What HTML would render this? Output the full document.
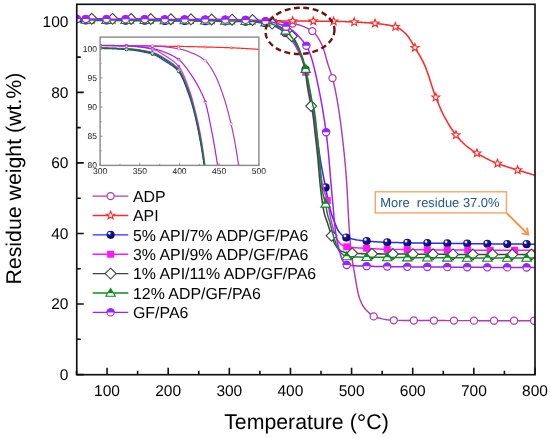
<!DOCTYPE html>
<html><head><meta charset="utf-8"><title>TGA curves</title>
<style>
html,body{margin:0;padding:0;background:#fff;}
body{width:550px;height:438px;overflow:hidden;}
svg{display:block;}
text{font-family:"Liberation Sans",Arial,sans-serif;fill:#000;text-rendering:geometricPrecision;}
.tl{font-size:15.5px;}
.at{font-size:21.3px;}
.lg{font-size:15.9px;}
.it{font-size:8.5px;fill:#1a1a1a;}
.an{font-size:12.95px;fill:#21558f;}
</style></head><body>
<svg width="550" height="438" viewBox="0 0 550 438"><defs><radialGradient id="navyg" cx="0.36" cy="0.32" r="0.72" fx="0.34" fy="0.3"><stop offset="0" stop-color="#ffffff"/><stop offset="0.14" stop-color="#e8e8ff"/><stop offset="0.3" stop-color="#1c1c90"/><stop offset="1" stop-color="#00006a"/></radialGradient><clipPath id="mainclip"><rect x="76.75" y="-3.70" width="458.25" height="378.40"/></clipPath><clipPath id="insclip"><rect x="100.10" y="37.10" width="158.80" height="128.30"/></clipPath></defs><path d="M76.50,374.70 v-4.00 M107.06,374.70 v-7.00 M137.63,374.70 v-4.00 M168.19,374.70 v-7.00 M198.76,374.70 v-4.00 M229.32,374.70 v-7.00 M259.89,374.70 v-4.00 M290.45,374.70 v-7.00 M321.02,374.70 v-4.00 M351.58,374.70 v-7.00 M382.15,374.70 v-4.00 M412.71,374.70 v-7.00 M443.28,374.70 v-4.00 M473.84,374.70 v-7.00 M504.41,374.70 v-4.00 M534.97,374.70 v-7.00 M76.75,374.60 h7.00 M76.75,339.32 h4.00 M76.75,304.04 h7.00 M76.75,268.76 h4.00 M76.75,233.48 h7.00 M76.75,198.20 h4.00 M76.75,162.92 h7.00 M76.75,127.64 h4.00 M76.75,92.36 h7.00 M76.75,57.08 h4.00 M76.75,21.80 h7.00" stroke="#111" stroke-width="1.6" fill="none"/><g clip-path="url(#mainclip)"><path d="M76.80,19.50 L77.95,19.50 L79.10,19.50 L80.25,19.50 L81.39,19.50 L82.54,19.50 L83.69,19.50 L84.84,19.50 L85.99,19.50 L87.14,19.50 L88.28,19.51 L89.43,19.51 L90.58,19.51 L91.73,19.51 L92.88,19.51 L94.03,19.51 L95.17,19.51 L96.32,19.51 L97.47,19.51 L98.62,19.52 L99.77,19.52 L100.92,19.52 L102.06,19.52 L103.21,19.52 L104.36,19.52 L105.51,19.52 L106.66,19.52 L107.81,19.53 L108.95,19.53 L110.10,19.53 L111.25,19.53 L112.40,19.53 L113.55,19.53 L114.70,19.54 L115.84,19.54 L116.99,19.54 L118.14,19.54 L119.29,19.54 L120.44,19.55 L121.59,19.55 L122.73,19.55 L123.88,19.55 L125.03,19.55 L126.18,19.55 L127.33,19.56 L128.48,19.56 L129.63,19.56 L130.77,19.56 L131.92,19.57 L133.07,19.57 L134.22,19.57 L135.37,19.57 L136.52,19.57 L137.66,19.58 L138.81,19.58 L139.96,19.58 L141.11,19.58 L142.26,19.58 L143.41,19.59 L144.55,19.59 L145.70,19.59 L146.85,19.59 L148.00,19.60 L149.15,19.60 L150.30,19.60 L151.44,19.60 L152.59,19.61 L153.74,19.61 L154.89,19.61 L156.04,19.61 L157.19,19.61 L158.33,19.62 L159.48,19.62 L160.63,19.62 L161.78,19.62 L162.93,19.62 L164.08,19.63 L165.22,19.63 L166.37,19.63 L167.52,19.63 L168.67,19.64 L169.82,19.64 L170.97,19.64 L172.11,19.64 L173.26,19.64 L174.41,19.65 L175.56,19.65 L176.71,19.65 L177.86,19.65 L179.01,19.66 L180.15,19.66 L181.30,19.66 L182.45,19.66 L183.60,19.67 L184.75,19.67 L185.90,19.67 L187.04,19.67 L188.19,19.68 L189.34,19.68 L190.49,19.68 L191.64,19.69 L192.79,19.69 L193.93,19.69 L195.08,19.69 L196.23,19.70 L197.38,19.70 L198.53,19.71 L199.68,19.71 L200.82,19.71 L201.97,19.72 L203.12,19.72 L204.27,19.72 L205.42,19.73 L206.57,19.73 L207.71,19.74 L208.86,19.74 L210.01,19.75 L211.16,19.75 L212.31,19.76 L213.46,19.76 L214.60,19.77 L215.75,19.77 L216.90,19.78 L218.05,19.78 L219.20,19.79 L220.35,19.79 L221.49,19.80 L222.64,19.80 L223.79,19.81 L224.94,19.82 L226.09,19.82 L227.24,19.83 L228.38,19.84 L229.53,19.84 L230.68,19.85 L231.83,19.86 L232.98,19.87 L234.13,19.87 L235.28,19.88 L236.42,19.89 L237.57,19.90 L238.72,19.91 L239.87,19.91 L241.02,19.92 L242.17,19.93 L243.31,19.94 L244.46,19.95 L245.61,19.96 L246.76,19.97 L247.91,19.98 L249.06,19.99 L250.20,20.00 L251.35,20.02 L252.50,20.05 L253.65,20.08 L254.80,20.13 L255.95,20.18 L257.09,20.24 L258.24,20.30 L259.39,20.37 L260.54,20.45 L261.69,20.53 L262.84,20.61 L263.98,20.70 L265.13,20.79 L266.28,20.88 L267.43,20.97 L268.58,21.07 L269.73,21.16 L270.87,21.25 L272.02,21.35 L273.17,21.44 L274.32,21.53 L275.47,21.62 L276.62,21.71 L277.76,21.80 L278.91,21.90 L280.06,21.99 L281.21,22.10 L282.36,22.20 L283.51,22.32 L284.66,22.44 L285.80,22.56 L286.95,22.70 L288.10,22.84 L289.25,22.99 L290.40,23.16 L291.55,23.33 L292.69,23.52 L293.84,23.72 L294.99,23.95 L296.14,24.20 L297.29,24.48 L298.44,24.79 L299.58,25.13 L300.73,25.50 L301.88,25.90 L303.03,26.33 L304.18,26.79 L305.33,27.29 L306.47,27.82 L307.62,28.39 L308.77,29.00 L309.92,29.64 L311.07,30.32 L312.22,31.05 L313.36,31.90 L314.51,33.00 L315.66,34.33 L316.81,35.87 L317.96,37.60 L319.11,39.51 L320.25,41.58 L321.40,43.80 L322.55,46.24 L323.13,47.75 L323.70,49.46 L324.27,51.31 L324.85,53.27 L325.42,55.31 L326.00,57.38 L326.57,59.46 L327.14,61.49 L327.72,63.45 L328.29,65.29 L328.87,67.01 L329.44,68.66 L330.02,70.28 L330.59,71.92 L331.16,73.63 L331.74,75.44 L332.31,77.41 L332.89,79.57 L333.27,81.10 L333.65,82.69 L334.04,84.35 L334.42,86.07 L334.80,87.85 L335.18,89.70 L335.57,91.60 L335.95,93.56 L336.33,95.58 L336.62,97.13 L336.91,98.71 L337.19,100.32 L337.48,101.96 L337.77,103.63 L338.05,105.32 L338.34,107.07 L338.63,108.87 L338.86,110.35 L339.09,111.87 L339.32,113.43 L339.55,115.02 L339.78,116.64 L340.01,118.30 L340.24,119.98 L340.47,121.70 L340.70,123.46 L340.93,125.24 L341.12,126.75 L341.31,128.28 L341.50,129.83 L341.69,131.40 L341.88,132.99 L342.07,134.60 L342.27,136.23 L342.46,137.88 L342.65,139.54 L342.84,141.23 L343.03,142.92 L343.22,144.64 L343.39,146.12 L343.55,147.63 L343.71,149.15 L343.88,150.69 L344.04,152.26 L344.21,153.85 L344.37,155.47 L344.51,156.92 L344.66,158.39 L344.80,159.88 L344.94,161.40 L345.09,162.95 L345.23,164.53 L345.38,166.14 L345.52,167.78 L345.65,169.27 L345.77,170.79 L345.90,172.33 L346.03,173.91 L346.16,175.52 L346.28,177.15 L346.41,178.83 L346.54,180.54 L346.67,182.37 L346.76,183.72 L346.84,185.13 L346.93,186.60 L347.02,188.11 L347.11,189.68 L347.20,191.29 L347.29,192.93 L347.37,194.60 L347.46,196.31 L347.55,198.04 L347.64,199.78 L347.73,201.54 L347.82,203.31 L347.90,204.96 L347.98,206.60 L348.06,208.24 L348.14,209.88 L348.23,211.50 L348.31,213.11 L348.39,214.70 L348.47,216.27 L348.55,217.81 L348.64,219.33 L348.72,220.80 L348.80,222.24 L348.88,223.64 L348.96,225.00 L349.08,226.81 L349.19,228.52 L349.31,230.11 L349.42,231.64 L349.54,233.14 L349.65,234.61 L349.77,236.05 L349.88,237.47 L350.00,238.86 L350.11,240.22 L350.28,242.11 L350.44,243.94 L350.60,245.71 L350.77,247.41 L350.93,249.05 L351.10,250.62 L351.26,252.12 L351.49,254.10 L351.72,255.95 L351.95,257.68 L352.18,259.32 L352.41,260.87 L352.70,262.71 L352.98,264.46 L353.27,266.14 L353.56,267.78 L353.84,269.41 L354.13,271.03 L354.42,272.69 L354.71,274.38 L354.99,276.08 L355.28,277.81 L355.57,279.53 L355.85,281.24 L356.14,282.94 L356.43,284.60 L356.72,286.22 L357.00,287.80 L357.39,289.80 L357.77,291.67 L358.15,293.39 L358.73,295.62 L359.30,297.45 L359.87,299.11 L360.45,300.64 L361.60,303.31 L362.74,305.50 L363.89,307.27 L365.04,308.79 L366.19,310.10 L367.34,311.27 L368.49,312.34 L369.63,313.39 L370.78,314.43 L371.93,315.39 L373.08,316.13 L374.23,316.58 L375.38,316.97 L376.52,317.34 L377.67,317.69 L378.82,318.02 L379.97,318.32 L381.12,318.61 L382.27,318.88 L383.42,319.12 L384.56,319.35 L385.71,319.55 L386.86,319.72 L388.01,319.88 L389.16,320.01 L390.31,320.12 L391.45,320.20 L392.60,320.26 L393.75,320.30 L394.90,320.32 L396.05,320.34 L397.20,320.36 L398.34,320.37 L399.49,320.39 L400.64,320.40 L401.79,320.42 L402.94,320.43 L404.09,320.44 L405.23,320.45 L406.38,320.46 L407.53,320.47 L408.68,320.48 L409.83,320.48 L410.98,320.49 L412.12,320.49 L413.27,320.50 L414.42,320.50 L415.57,320.51 L416.72,320.51 L417.87,320.51 L419.01,320.52 L420.16,320.52 L421.31,320.52 L422.46,320.53 L423.61,320.53 L424.76,320.53 L425.90,320.54 L427.05,320.54 L428.20,320.55 L429.35,320.55 L430.50,320.55 L431.65,320.56 L432.79,320.56 L433.94,320.56 L435.09,320.57 L436.24,320.57 L437.39,320.57 L438.54,320.57 L439.69,320.58 L440.83,320.58 L441.98,320.58 L443.13,320.59 L444.28,320.59 L445.43,320.59 L446.58,320.60 L447.72,320.60 L448.87,320.60 L450.02,320.60 L451.17,320.61 L452.32,320.61 L453.47,320.61 L454.61,320.61 L455.76,320.62 L456.91,320.62 L458.06,320.62 L459.21,320.62 L460.36,320.63 L461.50,320.63 L462.65,320.63 L463.80,320.63 L464.95,320.63 L466.10,320.64 L467.25,320.64 L468.39,320.64 L469.54,320.64 L470.69,320.65 L471.84,320.65 L472.99,320.65 L474.14,320.65 L475.28,320.65 L476.43,320.65 L477.58,320.66 L478.73,320.66 L479.88,320.66 L481.03,320.66 L482.17,320.66 L483.32,320.66 L484.47,320.67 L485.62,320.67 L486.77,320.67 L487.92,320.67 L489.07,320.67 L490.21,320.67 L491.36,320.68 L492.51,320.68 L493.66,320.68 L494.81,320.68 L495.96,320.68 L497.10,320.68 L498.25,320.68 L499.40,320.68 L500.55,320.68 L501.70,320.69 L502.85,320.69 L503.99,320.69 L505.14,320.69 L506.29,320.69 L507.44,320.69 L508.59,320.69 L509.74,320.69 L510.88,320.69 L512.03,320.69 L513.18,320.69 L514.33,320.69 L515.48,320.70 L516.63,320.70 L517.77,320.70 L518.92,320.70 L520.07,320.70 L521.22,320.70 L522.37,320.70 L523.52,320.70 L524.66,320.70 L525.81,320.70 L526.96,320.70 L528.11,320.70 L529.26,320.70 L530.41,320.70 L531.55,320.70 L532.70,320.70 L533.85,320.70 L535.00,320.70" fill="none" stroke="#b03cb4" stroke-width="1.45" stroke-linejoin="round"/><circle cx="91.80" cy="19.51" r="3.55" fill="#fff" stroke="#b03cb4" stroke-width="1.25"/><circle cx="112.50" cy="19.53" r="3.55" fill="#fff" stroke="#b03cb4" stroke-width="1.25"/><circle cx="131.10" cy="19.56" r="3.55" fill="#fff" stroke="#b03cb4" stroke-width="1.25"/><circle cx="150.80" cy="19.60" r="3.55" fill="#fff" stroke="#b03cb4" stroke-width="1.25"/><circle cx="170.90" cy="19.64" r="3.55" fill="#fff" stroke="#b03cb4" stroke-width="1.25"/><circle cx="191.00" cy="19.68" r="3.55" fill="#fff" stroke="#b03cb4" stroke-width="1.25"/><circle cx="211.70" cy="19.75" r="3.55" fill="#fff" stroke="#b03cb4" stroke-width="1.25"/><circle cx="232.10" cy="19.86" r="3.55" fill="#fff" stroke="#b03cb4" stroke-width="1.25"/><circle cx="252.50" cy="20.05" r="3.55" fill="#fff" stroke="#b03cb4" stroke-width="1.25"/><circle cx="272.10" cy="21.35" r="3.55" fill="#fff" stroke="#b03cb4" stroke-width="1.25"/><circle cx="292.60" cy="23.50" r="3.55" fill="#fff" stroke="#b03cb4" stroke-width="1.25"/><circle cx="312.30" cy="31.10" r="3.55" fill="#fff" stroke="#b03cb4" stroke-width="1.25"/><circle cx="332.50" cy="78.10" r="3.55" fill="#fff" stroke="#b03cb4" stroke-width="1.25"/><circle cx="373.70" cy="316.40" r="3.55" fill="#fff" stroke="#b03cb4" stroke-width="1.25"/><circle cx="393.75" cy="320.30" r="3.55" fill="#fff" stroke="#b03cb4" stroke-width="1.25"/><circle cx="413.80" cy="320.50" r="3.55" fill="#fff" stroke="#b03cb4" stroke-width="1.25"/><circle cx="433.85" cy="320.56" r="3.55" fill="#fff" stroke="#b03cb4" stroke-width="1.25"/><circle cx="453.90" cy="320.61" r="3.55" fill="#fff" stroke="#b03cb4" stroke-width="1.25"/><circle cx="473.95" cy="320.65" r="3.55" fill="#fff" stroke="#b03cb4" stroke-width="1.25"/><circle cx="494.00" cy="320.68" r="3.55" fill="#fff" stroke="#b03cb4" stroke-width="1.25"/><circle cx="514.05" cy="320.69" r="3.55" fill="#fff" stroke="#b03cb4" stroke-width="1.25"/><circle cx="534.10" cy="320.70" r="3.55" fill="#fff" stroke="#b03cb4" stroke-width="1.25"/><path d="M76.80,19.80 L77.95,19.80 L79.10,19.80 L80.25,19.80 L81.39,19.80 L82.54,19.80 L83.69,19.80 L84.84,19.80 L85.99,19.80 L87.14,19.80 L88.28,19.80 L89.43,19.80 L90.58,19.80 L91.73,19.80 L92.88,19.80 L94.03,19.80 L95.17,19.81 L96.32,19.81 L97.47,19.81 L98.62,19.81 L99.77,19.81 L100.92,19.81 L102.06,19.81 L103.21,19.81 L104.36,19.81 L105.51,19.81 L106.66,19.81 L107.81,19.81 L108.95,19.82 L110.10,19.82 L111.25,19.82 L112.40,19.82 L113.55,19.82 L114.70,19.82 L115.84,19.82 L116.99,19.82 L118.14,19.83 L119.29,19.83 L120.44,19.83 L121.59,19.83 L122.73,19.83 L123.88,19.83 L125.03,19.83 L126.18,19.84 L127.33,19.84 L128.48,19.84 L129.63,19.84 L130.77,19.84 L131.92,19.84 L133.07,19.85 L134.22,19.85 L135.37,19.85 L136.52,19.85 L137.66,19.85 L138.81,19.86 L139.96,19.86 L141.11,19.86 L142.26,19.86 L143.41,19.86 L144.55,19.87 L145.70,19.87 L146.85,19.87 L148.00,19.87 L149.15,19.87 L150.30,19.88 L151.44,19.88 L152.59,19.88 L153.74,19.88 L154.89,19.89 L156.04,19.89 L157.19,19.89 L158.33,19.89 L159.48,19.90 L160.63,19.90 L161.78,19.90 L162.93,19.90 L164.08,19.91 L165.22,19.91 L166.37,19.91 L167.52,19.91 L168.67,19.92 L169.82,19.92 L170.97,19.92 L172.11,19.93 L173.26,19.93 L174.41,19.93 L175.56,19.93 L176.71,19.94 L177.86,19.94 L179.01,19.94 L180.15,19.95 L181.30,19.95 L182.45,19.95 L183.60,19.95 L184.75,19.96 L185.90,19.96 L187.04,19.96 L188.19,19.97 L189.34,19.97 L190.49,19.97 L191.64,19.98 L192.79,19.98 L193.93,19.98 L195.08,19.99 L196.23,19.99 L197.38,19.99 L198.53,20.00 L199.68,20.00 L200.82,20.00 L201.97,20.01 L203.12,20.01 L204.27,20.02 L205.42,20.02 L206.57,20.03 L207.71,20.03 L208.86,20.04 L210.01,20.05 L211.16,20.06 L212.31,20.06 L213.46,20.07 L214.60,20.08 L215.75,20.09 L216.90,20.10 L218.05,20.11 L219.20,20.12 L220.35,20.13 L221.49,20.14 L222.64,20.15 L223.79,20.16 L224.94,20.18 L226.09,20.19 L227.24,20.20 L228.38,20.21 L229.53,20.23 L230.68,20.24 L231.83,20.25 L232.98,20.27 L234.13,20.28 L235.28,20.29 L236.42,20.31 L237.57,20.32 L238.72,20.34 L239.87,20.35 L241.02,20.37 L242.17,20.38 L243.31,20.40 L244.46,20.41 L245.61,20.43 L246.76,20.44 L247.91,20.46 L249.06,20.47 L250.20,20.49 L251.35,20.50 L252.50,20.52 L253.65,20.54 L254.80,20.55 L255.95,20.57 L257.09,20.58 L258.24,20.60 L259.39,20.61 L260.54,20.63 L261.69,20.65 L262.84,20.66 L263.98,20.68 L265.13,20.69 L266.28,20.71 L267.43,20.72 L268.58,20.74 L269.73,20.75 L270.87,20.77 L272.02,20.78 L273.17,20.79 L274.32,20.81 L275.47,20.82 L276.62,20.84 L277.76,20.85 L278.91,20.86 L280.06,20.88 L281.21,20.89 L282.36,20.90 L283.51,20.91 L284.66,20.93 L285.80,20.94 L286.95,20.95 L288.10,20.96 L289.25,20.97 L290.40,20.98 L291.55,20.99 L292.69,21.00 L293.84,21.01 L294.99,21.02 L296.14,21.03 L297.29,21.04 L298.44,21.04 L299.58,21.05 L300.73,21.06 L301.88,21.07 L303.03,21.07 L304.18,21.08 L305.33,21.08 L306.47,21.09 L307.62,21.10 L308.77,21.10 L309.92,21.11 L311.07,21.11 L312.22,21.12 L313.36,21.13 L314.51,21.13 L315.66,21.14 L316.81,21.15 L317.96,21.15 L319.11,21.16 L320.25,21.17 L321.40,21.18 L322.55,21.19 L323.70,21.19 L324.85,21.20 L326.00,21.21 L327.14,21.22 L328.29,21.24 L329.44,21.25 L330.59,21.26 L331.74,21.27 L332.89,21.29 L334.04,21.30 L335.18,21.32 L336.33,21.34 L337.48,21.36 L338.63,21.39 L339.78,21.43 L340.93,21.46 L342.07,21.50 L343.22,21.54 L344.37,21.58 L345.52,21.63 L346.67,21.67 L347.82,21.72 L348.96,21.77 L350.11,21.82 L351.26,21.87 L352.41,21.93 L353.56,21.98 L354.71,22.03 L355.85,22.09 L357.00,22.14 L358.15,22.20 L359.30,22.26 L360.45,22.33 L361.60,22.39 L362.74,22.46 L363.89,22.53 L365.04,22.61 L366.19,22.68 L367.34,22.76 L368.49,22.85 L369.63,22.94 L370.78,23.03 L371.93,23.12 L373.08,23.22 L374.23,23.33 L375.38,23.44 L376.52,23.55 L377.67,23.67 L378.82,23.79 L379.97,23.92 L381.12,24.05 L382.27,24.20 L383.42,24.35 L384.56,24.52 L385.71,24.69 L386.86,24.88 L388.01,25.09 L389.16,25.31 L390.31,25.54 L391.45,25.79 L392.60,26.06 L393.75,26.35 L394.90,26.66 L396.05,27.00 L397.20,27.46 L398.34,28.03 L399.49,28.71 L400.64,29.47 L401.79,30.32 L402.94,31.25 L404.09,32.24 L405.23,33.28 L406.38,34.38 L407.53,35.72 L408.68,37.29 L409.83,39.06 L410.98,40.96 L412.12,42.93 L413.27,44.93 L414.42,46.90 L415.57,48.80 L416.72,50.67 L417.87,52.54 L419.01,54.44 L420.16,56.41 L421.31,58.45 L422.46,60.61 L423.61,62.90 L424.76,65.37 L425.90,68.15 L426.48,69.67 L427.05,71.25 L427.63,72.90 L428.20,74.59 L428.78,76.33 L429.35,78.10 L429.92,79.89 L430.50,81.69 L431.07,83.50 L431.65,85.30 L432.22,87.09 L432.79,88.85 L433.37,90.58 L433.94,92.26 L434.52,93.89 L435.09,95.46 L436.24,98.40 L437.39,101.24 L438.54,104.02 L439.69,106.72 L440.83,109.34 L441.98,111.86 L443.13,114.26 L444.28,116.54 L445.43,118.68 L446.58,120.74 L447.72,122.73 L448.87,124.65 L450.02,126.50 L451.17,128.28 L452.32,129.99 L453.47,131.63 L454.61,133.20 L455.76,134.70 L456.91,136.14 L458.06,137.53 L459.21,138.87 L460.36,140.16 L461.50,141.40 L462.65,142.57 L463.80,143.69 L464.95,144.74 L466.10,145.72 L467.25,146.66 L468.39,147.55 L469.54,148.41 L470.69,149.23 L471.84,150.02 L472.99,150.78 L474.14,151.51 L475.28,152.23 L476.43,152.92 L477.58,153.60 L478.73,154.27 L479.88,154.93 L481.03,155.58 L482.17,156.21 L483.32,156.84 L484.47,157.45 L485.62,158.06 L486.77,158.64 L487.92,159.22 L489.07,159.78 L490.21,160.34 L491.36,160.87 L492.51,161.40 L493.66,161.90 L494.81,162.40 L495.96,162.88 L497.10,163.34 L498.25,163.79 L499.40,164.23 L500.55,164.65 L501.70,165.05 L502.85,165.45 L503.99,165.83 L505.14,166.20 L506.29,166.57 L507.44,166.93 L508.59,167.29 L509.74,167.64 L510.88,167.98 L512.03,168.33 L513.18,168.68 L514.33,169.02 L515.48,169.37 L516.63,169.73 L517.77,170.09 L518.92,170.44 L520.07,170.80 L521.22,171.16 L522.37,171.51 L523.52,171.86 L524.66,172.21 L525.81,172.56 L526.96,172.91 L528.11,173.26 L529.26,173.60 L530.41,173.94 L531.55,174.29 L532.70,174.63 L533.85,174.96 L535.00,175.30" fill="none" stroke="#ff2a2a" stroke-width="1.55" stroke-linejoin="round"/><polygon points="91.80,15.65 92.86,18.35 95.75,18.52 93.51,20.36 94.24,23.16 91.80,21.60 89.36,23.16 90.09,20.36 87.85,18.52 90.74,18.35" fill="#fff" stroke="#ff2a2a" stroke-width="1.15" stroke-linejoin="miter"/><polygon points="112.50,15.67 113.56,18.36 116.45,18.54 114.21,20.38 114.94,23.18 112.50,21.62 110.06,23.18 110.79,20.38 108.55,18.54 111.44,18.36" fill="#fff" stroke="#ff2a2a" stroke-width="1.15" stroke-linejoin="miter"/><polygon points="131.10,15.69 132.16,18.39 135.05,18.56 132.81,20.40 133.54,23.20 131.10,21.64 128.66,23.20 129.39,20.40 127.15,18.56 130.04,18.39" fill="#fff" stroke="#ff2a2a" stroke-width="1.15" stroke-linejoin="miter"/><polygon points="150.80,15.73 151.86,18.42 154.75,18.60 152.51,20.43 153.24,23.24 150.80,21.68 148.36,23.24 149.09,20.43 146.85,18.60 149.74,18.42" fill="#fff" stroke="#ff2a2a" stroke-width="1.15" stroke-linejoin="miter"/><polygon points="170.90,15.77 171.96,18.47 174.85,18.64 172.61,20.48 173.34,23.28 170.90,21.72 168.46,23.28 169.19,20.48 166.95,18.64 169.84,18.47" fill="#fff" stroke="#ff2a2a" stroke-width="1.15" stroke-linejoin="miter"/><polygon points="191.00,15.82 192.06,18.52 194.95,18.69 192.71,20.53 193.44,23.33 191.00,21.77 188.56,23.33 189.29,20.53 187.05,18.69 189.94,18.52" fill="#fff" stroke="#ff2a2a" stroke-width="1.15" stroke-linejoin="miter"/><polygon points="211.70,15.91 212.76,18.60 215.65,18.78 213.41,20.62 214.14,23.42 211.70,21.86 209.26,23.42 209.99,20.62 207.75,18.78 210.64,18.60" fill="#fff" stroke="#ff2a2a" stroke-width="1.15" stroke-linejoin="miter"/><polygon points="232.10,16.11 233.16,18.80 236.05,18.97 233.81,20.81 234.54,23.61 232.10,22.06 229.66,23.61 230.39,20.81 228.15,18.97 231.04,18.80" fill="#fff" stroke="#ff2a2a" stroke-width="1.15" stroke-linejoin="miter"/><polygon points="252.50,16.37 253.56,19.06 256.45,19.24 254.21,21.08 254.94,23.88 252.50,22.32 250.06,23.88 250.79,21.08 248.55,19.24 251.44,19.06" fill="#fff" stroke="#ff2a2a" stroke-width="1.15" stroke-linejoin="miter"/><polygon points="272.10,16.63 273.16,19.32 276.05,19.50 273.81,21.34 274.54,24.14 272.10,22.58 269.66,24.14 270.39,21.34 268.15,19.50 271.04,19.32" fill="#fff" stroke="#ff2a2a" stroke-width="1.15" stroke-linejoin="miter"/><polygon points="292.60,16.85 293.66,19.54 296.55,19.72 294.31,21.56 295.04,24.36 292.60,22.80 290.16,24.36 290.89,21.56 288.65,19.72 291.54,19.54" fill="#fff" stroke="#ff2a2a" stroke-width="1.15" stroke-linejoin="miter"/><polygon points="313.30,16.98 314.36,19.67 317.25,19.84 315.01,21.68 315.74,24.48 313.30,22.93 310.86,24.48 311.59,21.68 309.35,19.84 312.24,19.67" fill="#fff" stroke="#ff2a2a" stroke-width="1.15" stroke-linejoin="miter"/><polygon points="333.60,17.14 334.66,19.84 337.55,20.01 335.31,21.85 336.04,24.65 333.60,23.09 331.16,24.65 331.89,21.85 329.65,20.01 332.54,19.84" fill="#fff" stroke="#ff2a2a" stroke-width="1.15" stroke-linejoin="miter"/><polygon points="354.20,17.86 355.26,20.55 358.15,20.73 355.91,22.57 356.64,25.37 354.20,23.81 351.76,25.37 352.49,22.57 350.25,20.73 353.14,20.55" fill="#fff" stroke="#ff2a2a" stroke-width="1.15" stroke-linejoin="miter"/><polygon points="375.00,19.25 376.06,21.94 378.95,22.12 376.71,23.96 377.44,26.76 375.00,25.20 372.56,26.76 373.29,23.96 371.05,22.12 373.94,21.94" fill="#fff" stroke="#ff2a2a" stroke-width="1.15" stroke-linejoin="miter"/><polygon points="395.40,22.65 396.46,25.34 399.35,25.52 397.11,27.36 397.84,30.16 395.40,28.60 392.96,30.16 393.69,27.36 391.45,25.52 394.34,25.34" fill="#fff" stroke="#ff2a2a" stroke-width="1.15" stroke-linejoin="miter"/><polygon points="414.90,43.55 415.96,46.24 418.85,46.42 416.61,48.26 417.34,51.06 414.90,49.50 412.46,51.06 413.19,48.26 410.95,46.42 413.84,46.24" fill="#fff" stroke="#ff2a2a" stroke-width="1.15" stroke-linejoin="miter"/><polygon points="435.80,93.15 436.86,95.84 439.75,96.02 437.51,97.86 438.24,100.66 435.80,99.10 433.36,100.66 434.09,97.86 431.85,96.02 434.74,95.84" fill="#fff" stroke="#ff2a2a" stroke-width="1.15" stroke-linejoin="miter"/><polygon points="456.00,130.85 457.06,133.54 459.95,133.72 457.71,135.56 458.44,138.36 456.00,136.80 453.56,138.36 454.29,135.56 452.05,133.72 454.94,133.54" fill="#fff" stroke="#ff2a2a" stroke-width="1.15" stroke-linejoin="miter"/><polygon points="476.90,149.05 477.96,151.74 480.85,151.92 478.61,153.76 479.34,156.56 476.90,155.00 474.46,156.56 475.19,153.76 472.95,151.92 475.84,151.74" fill="#fff" stroke="#ff2a2a" stroke-width="1.15" stroke-linejoin="miter"/><polygon points="497.50,159.35 498.56,162.04 501.45,162.22 499.21,164.06 499.94,166.86 497.50,165.30 495.06,166.86 495.79,164.06 493.55,162.22 496.44,162.04" fill="#fff" stroke="#ff2a2a" stroke-width="1.15" stroke-linejoin="miter"/><polygon points="517.60,165.88 518.66,168.58 521.55,168.75 519.31,170.59 520.04,173.39 517.60,171.83 515.16,173.39 515.89,170.59 513.65,168.75 516.54,168.58" fill="#fff" stroke="#ff2a2a" stroke-width="1.15" stroke-linejoin="miter"/><path d="M76.80,20.40 L77.95,20.41 L79.10,20.41 L80.25,20.42 L81.39,20.42 L82.54,20.43 L83.69,20.43 L84.84,20.44 L85.99,20.44 L87.14,20.45 L88.28,20.45 L89.43,20.46 L90.58,20.46 L91.73,20.47 L92.88,20.48 L94.03,20.48 L95.17,20.49 L96.32,20.49 L97.47,20.50 L98.62,20.50 L99.77,20.51 L100.92,20.52 L102.06,20.52 L103.21,20.53 L104.36,20.53 L105.51,20.54 L106.66,20.55 L107.81,20.55 L108.95,20.56 L110.10,20.56 L111.25,20.57 L112.40,20.58 L113.55,20.58 L114.70,20.59 L115.84,20.60 L116.99,20.60 L118.14,20.61 L119.29,20.62 L120.44,20.62 L121.59,20.63 L122.73,20.64 L123.88,20.64 L125.03,20.65 L126.18,20.65 L127.33,20.66 L128.48,20.67 L129.63,20.68 L130.77,20.68 L131.92,20.69 L133.07,20.70 L134.22,20.70 L135.37,20.71 L136.52,20.72 L137.66,20.72 L138.81,20.73 L139.96,20.74 L141.11,20.74 L142.26,20.75 L143.41,20.76 L144.55,20.77 L145.70,20.77 L146.85,20.78 L148.00,20.79 L149.15,20.79 L150.30,20.80 L151.44,20.81 L152.59,20.82 L153.74,20.82 L154.89,20.83 L156.04,20.84 L157.19,20.84 L158.33,20.85 L159.48,20.86 L160.63,20.87 L161.78,20.87 L162.93,20.88 L164.08,20.89 L165.22,20.89 L166.37,20.90 L167.52,20.91 L168.67,20.91 L169.82,20.92 L170.97,20.93 L172.11,20.93 L173.26,20.94 L174.41,20.95 L175.56,20.96 L176.71,20.96 L177.86,20.97 L179.01,20.98 L180.15,20.98 L181.30,20.99 L182.45,21.00 L183.60,21.01 L184.75,21.01 L185.90,21.02 L187.04,21.03 L188.19,21.04 L189.34,21.05 L190.49,21.05 L191.64,21.06 L192.79,21.07 L193.93,21.08 L195.08,21.09 L196.23,21.09 L197.38,21.10 L198.53,21.11 L199.68,21.12 L200.82,21.13 L201.97,21.14 L203.12,21.15 L204.27,21.16 L205.42,21.17 L206.57,21.18 L207.71,21.19 L208.86,21.20 L210.01,21.21 L211.16,21.22 L212.31,21.23 L213.46,21.24 L214.60,21.25 L215.75,21.26 L216.90,21.27 L218.05,21.28 L219.20,21.29 L220.35,21.30 L221.49,21.32 L222.64,21.33 L223.79,21.34 L224.94,21.35 L226.09,21.37 L227.24,21.38 L228.38,21.39 L229.53,21.41 L230.68,21.42 L231.83,21.43 L232.98,21.45 L234.13,21.47 L235.28,21.48 L236.42,21.50 L237.57,21.52 L238.72,21.54 L239.87,21.56 L241.02,21.59 L242.17,21.61 L243.31,21.64 L244.46,21.67 L245.61,21.70 L246.76,21.74 L247.91,21.78 L249.06,21.83 L250.20,21.88 L251.35,21.94 L252.50,22.00 L253.65,22.07 L254.80,22.15 L255.95,22.23 L257.09,22.32 L258.24,22.42 L259.39,22.52 L260.54,22.63 L261.69,22.75 L262.84,22.88 L263.98,23.01 L265.13,23.15 L266.28,23.32 L267.43,23.53 L268.58,23.81 L269.73,24.14 L270.87,24.52 L272.02,24.95 L273.17,25.43 L274.32,25.95 L275.47,26.52 L276.62,27.12 L277.76,27.77 L278.91,28.46 L280.06,29.18 L281.21,29.93 L282.36,30.71 L283.51,31.53 L284.66,32.37 L285.80,33.24 L286.95,34.22 L288.10,35.36 L289.25,36.64 L290.40,38.05 L291.55,39.60 L292.69,41.26 L293.84,43.05 L294.99,44.95 L296.14,46.96 L297.29,49.07 L298.44,51.27 L299.58,53.56 L300.73,55.94 L301.88,58.50 L302.45,59.95 L303.03,61.51 L303.60,63.19 L304.18,64.99 L304.75,66.91 L305.33,68.96 L305.71,70.40 L306.09,72.00 L306.47,73.75 L306.86,75.62 L307.24,77.58 L307.62,79.63 L307.91,81.19 L308.20,82.78 L308.48,84.39 L308.77,85.99 L309.06,87.58 L309.35,89.16 L309.63,90.71 L309.92,92.28 L310.21,93.85 L310.49,95.44 L310.78,97.04 L311.07,98.65 L311.35,100.29 L311.64,101.94 L311.93,103.60 L312.22,105.29 L312.50,107.00 L312.79,108.72 L313.08,110.47 L313.36,112.25 L313.65,114.06 L313.94,115.89 L314.23,117.75 L314.51,119.63 L314.74,121.15 L314.97,122.67 L315.20,124.21 L315.43,125.75 L315.66,127.30 L315.89,128.85 L316.12,130.40 L316.35,131.96 L316.58,133.51 L316.81,135.06 L317.04,136.64 L317.27,138.24 L317.50,139.87 L317.73,141.51 L317.96,143.17 L318.19,144.83 L318.42,146.50 L318.65,148.16 L318.88,149.81 L319.11,151.44 L319.34,153.05 L319.57,154.62 L319.80,156.16 L320.02,157.66 L320.25,159.11 L320.54,160.85 L320.83,162.54 L321.12,164.19 L321.40,165.80 L321.69,167.37 L321.98,168.92 L322.26,170.44 L322.55,171.94 L322.93,173.90 L323.32,175.84 L323.70,177.77 L324.08,179.69 L324.47,181.61 L324.85,183.54 L325.23,185.49 L325.61,187.47 L326.00,189.51 L326.28,191.08 L326.57,192.68 L326.86,194.28 L327.14,195.88 L327.43,197.46 L327.72,199.01 L328.01,200.51 L328.29,201.96 L328.68,203.77 L329.06,205.43 L329.44,206.93 L330.02,209.05 L330.59,211.03 L331.16,212.88 L331.74,214.63 L332.31,216.29 L332.89,217.87 L334.04,220.86 L335.18,223.80 L336.33,226.62 L337.48,229.16 L338.63,231.27 L339.78,232.80 L340.93,233.99 L342.07,235.05 L343.22,235.94 L344.37,236.68 L345.52,237.23 L346.67,237.61 L347.82,237.96 L348.96,238.28 L350.11,238.58 L351.26,238.85 L352.41,239.11 L353.56,239.34 L354.71,239.56 L355.85,239.76 L357.00,239.94 L358.15,240.12 L359.30,240.27 L360.45,240.42 L361.60,240.56 L362.74,240.68 L363.89,240.80 L365.04,240.92 L366.19,241.03 L367.34,241.13 L368.49,241.23 L369.63,241.33 L370.78,241.43 L371.93,241.52 L373.08,241.60 L374.23,241.69 L375.38,241.76 L376.52,241.84 L377.67,241.91 L378.82,241.97 L379.97,242.04 L381.12,242.09 L382.27,242.15 L383.42,242.19 L384.56,242.24 L385.71,242.28 L386.86,242.31 L388.01,242.35 L389.16,242.38 L390.31,242.41 L391.45,242.44 L392.60,242.47 L393.75,242.50 L394.90,242.53 L396.05,242.56 L397.20,242.59 L398.34,242.62 L399.49,242.64 L400.64,242.67 L401.79,242.69 L402.94,242.72 L404.09,242.74 L405.23,242.76 L406.38,242.79 L407.53,242.81 L408.68,242.83 L409.83,242.85 L410.98,242.87 L412.12,242.89 L413.27,242.91 L414.42,242.93 L415.57,242.95 L416.72,242.97 L417.87,242.99 L419.01,243.00 L420.16,243.02 L421.31,243.04 L422.46,243.05 L423.61,243.07 L424.76,243.09 L425.90,243.10 L427.05,243.12 L428.20,243.13 L429.35,243.15 L430.50,243.16 L431.65,243.18 L432.79,243.19 L433.94,243.21 L435.09,243.22 L436.24,243.23 L437.39,243.25 L438.54,243.26 L439.69,243.28 L440.83,243.29 L441.98,243.30 L443.13,243.32 L444.28,243.33 L445.43,243.34 L446.58,243.36 L447.72,243.37 L448.87,243.39 L450.02,243.40 L451.17,243.41 L452.32,243.43 L453.47,243.44 L454.61,243.46 L455.76,243.47 L456.91,243.48 L458.06,243.50 L459.21,243.51 L460.36,243.53 L461.50,243.54 L462.65,243.55 L463.80,243.57 L464.95,243.58 L466.10,243.59 L467.25,243.61 L468.39,243.62 L469.54,243.63 L470.69,243.65 L471.84,243.66 L472.99,243.67 L474.14,243.69 L475.28,243.70 L476.43,243.71 L477.58,243.72 L478.73,243.74 L479.88,243.75 L481.03,243.76 L482.17,243.77 L483.32,243.79 L484.47,243.80 L485.62,243.81 L486.77,243.82 L487.92,243.83 L489.07,243.85 L490.21,243.86 L491.36,243.87 L492.51,243.88 L493.66,243.89 L494.81,243.90 L495.96,243.91 L497.10,243.92 L498.25,243.93 L499.40,243.94 L500.55,243.96 L501.70,243.97 L502.85,243.98 L503.99,243.99 L505.14,244.00 L506.29,244.01 L507.44,244.02 L508.59,244.02 L509.74,244.03 L510.88,244.04 L512.03,244.05 L513.18,244.06 L514.33,244.07 L515.48,244.08 L516.63,244.09 L517.77,244.10 L518.92,244.10 L520.07,244.11 L521.22,244.12 L522.37,244.13 L523.52,244.13 L524.66,244.14 L525.81,244.15 L526.96,244.16 L528.11,244.16 L529.26,244.17 L530.41,244.18 L531.55,244.18 L532.70,244.19 L533.85,244.19 L535.00,244.20" fill="none" stroke="#2a2aff" stroke-width="1.50" stroke-linejoin="round"/><circle cx="85.80" cy="20.44" r="4.05" fill="url(#navyg)"/><circle cx="106.50" cy="20.55" r="4.05" fill="url(#navyg)"/><circle cx="125.60" cy="20.65" r="4.05" fill="url(#navyg)"/><circle cx="144.70" cy="20.77" r="4.05" fill="url(#navyg)"/><circle cx="164.80" cy="20.89" r="4.05" fill="url(#navyg)"/><circle cx="184.70" cy="21.01" r="4.05" fill="url(#navyg)"/><circle cx="205.20" cy="21.16" r="4.05" fill="url(#navyg)"/><circle cx="225.30" cy="21.36" r="4.05" fill="url(#navyg)"/><circle cx="245.60" cy="21.70" r="4.05" fill="url(#navyg)"/><circle cx="265.50" cy="23.20" r="4.05" fill="url(#navyg)"/><circle cx="285.50" cy="33.00" r="4.05" fill="url(#navyg)"/><circle cx="305.50" cy="69.60" r="4.05" fill="url(#navyg)"/><circle cx="325.60" cy="187.40" r="4.05" fill="url(#navyg)"/><circle cx="346.20" cy="237.46" r="4.05" fill="url(#navyg)"/><circle cx="366.60" cy="241.07" r="4.05" fill="url(#navyg)"/><circle cx="387.20" cy="242.32" r="4.05" fill="url(#navyg)"/><circle cx="407.30" cy="242.81" r="4.05" fill="url(#navyg)"/><circle cx="427.30" cy="243.12" r="4.05" fill="url(#navyg)"/><circle cx="447.30" cy="243.37" r="4.05" fill="url(#navyg)"/><circle cx="467.20" cy="243.61" r="4.05" fill="url(#navyg)"/><circle cx="487.30" cy="243.83" r="4.05" fill="url(#navyg)"/><circle cx="507.20" cy="244.01" r="4.05" fill="url(#navyg)"/><circle cx="526.60" cy="244.15" r="4.05" fill="url(#navyg)"/><path d="M76.80,19.30 L77.95,19.30 L79.10,19.30 L80.25,19.30 L81.39,19.30 L82.54,19.30 L83.69,19.30 L84.84,19.30 L85.99,19.30 L87.14,19.30 L88.28,19.30 L89.43,19.30 L90.58,19.30 L91.73,19.31 L92.88,19.31 L94.03,19.31 L95.17,19.31 L96.32,19.31 L97.47,19.31 L98.62,19.31 L99.77,19.31 L100.92,19.31 L102.06,19.31 L103.21,19.32 L104.36,19.32 L105.51,19.32 L106.66,19.32 L107.81,19.32 L108.95,19.32 L110.10,19.32 L111.25,19.33 L112.40,19.33 L113.55,19.33 L114.70,19.33 L115.84,19.33 L116.99,19.34 L118.14,19.34 L119.29,19.34 L120.44,19.34 L121.59,19.34 L122.73,19.35 L123.88,19.35 L125.03,19.35 L126.18,19.35 L127.33,19.36 L128.48,19.36 L129.63,19.36 L130.77,19.36 L131.92,19.37 L133.07,19.37 L134.22,19.37 L135.37,19.37 L136.52,19.38 L137.66,19.38 L138.81,19.38 L139.96,19.39 L141.11,19.39 L142.26,19.39 L143.41,19.40 L144.55,19.40 L145.70,19.40 L146.85,19.40 L148.00,19.41 L149.15,19.41 L150.30,19.41 L151.44,19.42 L152.59,19.42 L153.74,19.43 L154.89,19.43 L156.04,19.43 L157.19,19.44 L158.33,19.44 L159.48,19.44 L160.63,19.45 L161.78,19.45 L162.93,19.45 L164.08,19.46 L165.22,19.46 L166.37,19.47 L167.52,19.47 L168.67,19.47 L169.82,19.48 L170.97,19.48 L172.11,19.49 L173.26,19.49 L174.41,19.50 L175.56,19.50 L176.71,19.50 L177.86,19.51 L179.01,19.51 L180.15,19.52 L181.30,19.52 L182.45,19.53 L183.60,19.53 L184.75,19.54 L185.90,19.54 L187.04,19.54 L188.19,19.55 L189.34,19.55 L190.49,19.56 L191.64,19.56 L192.79,19.57 L193.93,19.57 L195.08,19.58 L196.23,19.58 L197.38,19.59 L198.53,19.59 L199.68,19.60 L200.82,19.60 L201.97,19.61 L203.12,19.61 L204.27,19.62 L205.42,19.63 L206.57,19.63 L207.71,19.64 L208.86,19.64 L210.01,19.65 L211.16,19.66 L212.31,19.66 L213.46,19.67 L214.60,19.68 L215.75,19.69 L216.90,19.70 L218.05,19.71 L219.20,19.72 L220.35,19.73 L221.49,19.74 L222.64,19.75 L223.79,19.76 L224.94,19.77 L226.09,19.78 L227.24,19.80 L228.38,19.81 L229.53,19.82 L230.68,19.84 L231.83,19.85 L232.98,19.87 L234.13,19.89 L235.28,19.91 L236.42,19.92 L237.57,19.94 L238.72,19.96 L239.87,19.98 L241.02,20.01 L242.17,20.03 L243.31,20.05 L244.46,20.08 L245.61,20.10 L246.76,20.14 L247.91,20.18 L249.06,20.24 L250.20,20.32 L251.35,20.40 L252.50,20.50 L253.65,20.61 L254.80,20.73 L255.95,20.86 L257.09,21.00 L258.24,21.15 L259.39,21.31 L260.54,21.48 L261.69,21.66 L262.84,21.84 L263.98,22.04 L265.13,22.23 L266.28,22.45 L267.43,22.70 L268.58,23.00 L269.73,23.34 L270.87,23.71 L272.02,24.13 L273.17,24.58 L274.32,25.08 L275.47,25.61 L276.62,26.18 L277.76,26.79 L278.91,27.43 L280.06,28.11 L281.21,28.82 L282.36,29.57 L283.51,30.36 L284.66,31.18 L285.80,32.03 L286.95,33.02 L288.10,34.17 L289.25,35.48 L290.40,36.93 L291.55,38.54 L292.69,40.28 L293.84,42.15 L294.99,44.16 L296.14,46.28 L297.29,48.52 L298.44,50.88 L299.58,53.33 L300.73,55.89 L301.88,58.67 L302.45,60.25 L303.03,61.96 L303.60,63.82 L304.18,65.82 L304.75,67.97 L305.33,70.28 L305.71,71.90 L306.09,73.68 L306.47,75.77 L306.76,77.51 L307.05,79.35 L307.34,81.25 L307.62,83.20 L307.91,85.15 L308.20,87.07 L308.48,88.93 L308.77,90.69 L309.06,92.32 L309.35,93.85 L309.63,95.31 L309.92,96.72 L310.30,98.55 L310.68,100.34 L311.07,102.13 L311.45,103.95 L311.83,105.85 L312.22,107.85 L312.50,109.44 L312.79,111.12 L313.08,112.85 L313.36,114.64 L313.59,116.11 L313.82,117.61 L314.05,119.14 L314.28,120.71 L314.51,122.31 L314.74,123.94 L314.97,125.60 L315.20,127.30 L315.43,129.02 L315.66,130.77 L315.85,132.26 L316.04,133.76 L316.24,135.28 L316.43,136.88 L316.62,138.57 L316.81,140.34 L316.97,141.90 L317.14,143.49 L317.30,145.10 L317.47,146.73 L317.63,148.36 L317.79,149.99 L317.96,151.59 L318.15,153.43 L318.34,155.22 L318.53,156.94 L318.72,158.58 L318.91,160.12 L319.11,161.60 L319.34,163.38 L319.57,165.15 L319.80,166.90 L320.02,168.64 L320.25,170.34 L320.48,172.01 L320.71,173.65 L320.94,175.25 L321.17,176.80 L321.40,178.31 L321.69,180.11 L321.98,181.82 L322.26,183.42 L322.55,184.92 L322.93,186.71 L323.32,188.29 L323.70,189.69 L324.27,191.52 L324.85,193.15 L325.42,194.70 L326.00,196.28 L326.57,198.00 L327.14,200.00 L327.53,201.55 L327.91,203.35 L328.29,205.34 L328.58,206.93 L328.87,208.57 L329.15,210.23 L329.44,211.91 L329.73,213.56 L330.02,215.16 L330.30,216.70 L330.59,218.15 L330.97,219.89 L331.36,221.48 L331.74,223.05 L332.12,224.60 L332.50,226.11 L332.89,227.58 L333.46,229.69 L334.04,231.66 L334.61,233.47 L335.18,235.09 L336.33,237.67 L337.48,239.83 L338.63,241.69 L339.78,243.19 L340.93,244.25 L342.07,244.99 L343.22,245.63 L344.37,246.15 L345.52,246.54 L346.67,246.79 L347.82,246.96 L348.96,247.11 L350.11,247.25 L351.26,247.38 L352.41,247.49 L353.56,247.59 L354.71,247.68 L355.85,247.77 L357.00,247.84 L358.15,247.91 L359.30,247.98 L360.45,248.04 L361.60,248.10 L362.74,248.16 L363.89,248.22 L365.04,248.28 L366.19,248.34 L367.34,248.40 L368.49,248.47 L369.63,248.54 L370.78,248.60 L371.93,248.67 L373.08,248.74 L374.23,248.81 L375.38,248.87 L376.52,248.93 L377.67,248.99 L378.82,249.04 L379.97,249.10 L381.12,249.14 L382.27,249.19 L383.42,249.23 L384.56,249.26 L385.71,249.28 L386.86,249.30 L388.01,249.32 L389.16,249.34 L390.31,249.35 L391.45,249.37 L392.60,249.38 L393.75,249.40 L394.90,249.42 L396.05,249.43 L397.20,249.45 L398.34,249.46 L399.49,249.48 L400.64,249.49 L401.79,249.51 L402.94,249.52 L404.09,249.54 L405.23,249.55 L406.38,249.56 L407.53,249.58 L408.68,249.59 L409.83,249.61 L410.98,249.62 L412.12,249.63 L413.27,249.65 L414.42,249.66 L415.57,249.67 L416.72,249.68 L417.87,249.70 L419.01,249.71 L420.16,249.72 L421.31,249.73 L422.46,249.75 L423.61,249.76 L424.76,249.77 L425.90,249.78 L427.05,249.79 L428.20,249.80 L429.35,249.82 L430.50,249.83 L431.65,249.84 L432.79,249.85 L433.94,249.86 L435.09,249.87 L436.24,249.88 L437.39,249.89 L438.54,249.90 L439.69,249.91 L440.83,249.92 L441.98,249.93 L443.13,249.94 L444.28,249.95 L445.43,249.96 L446.58,249.97 L447.72,249.98 L448.87,249.99 L450.02,249.99 L451.17,250.00 L452.32,250.01 L453.47,250.02 L454.61,250.03 L455.76,250.04 L456.91,250.04 L458.06,250.05 L459.21,250.06 L460.36,250.07 L461.50,250.07 L462.65,250.08 L463.80,250.09 L464.95,250.10 L466.10,250.10 L467.25,250.11 L468.39,250.12 L469.54,250.12 L470.69,250.13 L471.84,250.14 L472.99,250.14 L474.14,250.15 L475.28,250.15 L476.43,250.16 L477.58,250.16 L478.73,250.17 L479.88,250.18 L481.03,250.18 L482.17,250.19 L483.32,250.19 L484.47,250.20 L485.62,250.20 L486.77,250.21 L487.92,250.21 L489.07,250.21 L490.21,250.22 L491.36,250.22 L492.51,250.23 L493.66,250.23 L494.81,250.24 L495.96,250.24 L497.10,250.24 L498.25,250.25 L499.40,250.25 L500.55,250.25 L501.70,250.26 L502.85,250.26 L503.99,250.26 L505.14,250.26 L506.29,250.27 L507.44,250.27 L508.59,250.27 L509.74,250.27 L510.88,250.28 L512.03,250.28 L513.18,250.28 L514.33,250.28 L515.48,250.29 L516.63,250.29 L517.77,250.29 L518.92,250.29 L520.07,250.29 L521.22,250.29 L522.37,250.29 L523.52,250.29 L524.66,250.30 L525.81,250.30 L526.96,250.30 L528.11,250.30 L529.26,250.30 L530.41,250.30 L531.55,250.30 L532.70,250.30 L533.85,250.30 L535.00,250.30" fill="none" stroke="#ff18ff" stroke-width="1.50" stroke-linejoin="round"/><rect x="82.30" y="15.80" width="7.00" height="7.00" fill="#ff18ff"/><rect x="103.00" y="15.82" width="7.00" height="7.00" fill="#ff18ff"/><rect x="122.10" y="15.85" width="7.00" height="7.00" fill="#ff18ff"/><rect x="141.20" y="15.90" width="7.00" height="7.00" fill="#ff18ff"/><rect x="161.30" y="15.96" width="7.00" height="7.00" fill="#ff18ff"/><rect x="181.20" y="16.04" width="7.00" height="7.00" fill="#ff18ff"/><rect x="201.70" y="16.12" width="7.00" height="7.00" fill="#ff18ff"/><rect x="221.80" y="16.27" width="7.00" height="7.00" fill="#ff18ff"/><rect x="242.10" y="16.60" width="7.00" height="7.00" fill="#ff18ff"/><rect x="262.00" y="18.80" width="7.00" height="7.00" fill="#ff18ff"/><rect x="282.60" y="28.77" width="7.00" height="7.00" fill="#ff18ff"/><rect x="302.30" y="68.80" width="7.00" height="7.00" fill="#ff18ff"/><rect x="323.80" y="197.10" width="7.00" height="7.00" fill="#ff18ff"/><rect x="343.20" y="243.30" width="7.00" height="7.00" fill="#ff18ff"/><rect x="363.10" y="244.86" width="7.00" height="7.00" fill="#ff18ff"/><rect x="383.70" y="245.81" width="7.00" height="7.00" fill="#ff18ff"/><rect x="403.80" y="246.07" width="7.00" height="7.00" fill="#ff18ff"/><rect x="423.80" y="246.30" width="7.00" height="7.00" fill="#ff18ff"/><rect x="443.80" y="246.47" width="7.00" height="7.00" fill="#ff18ff"/><rect x="464.20" y="246.61" width="7.00" height="7.00" fill="#ff18ff"/><rect x="486.60" y="246.72" width="7.00" height="7.00" fill="#ff18ff"/><rect x="511.10" y="246.78" width="7.00" height="7.00" fill="#ff18ff"/><path d="M76.80,18.80 L77.95,18.80 L79.10,18.80 L80.25,18.80 L81.39,18.80 L82.54,18.80 L83.69,18.80 L84.84,18.80 L85.99,18.81 L87.14,18.81 L88.28,18.81 L89.43,18.81 L90.58,18.81 L91.73,18.81 L92.88,18.82 L94.03,18.82 L95.17,18.82 L96.32,18.82 L97.47,18.83 L98.62,18.83 L99.77,18.83 L100.92,18.83 L102.06,18.84 L103.21,18.84 L104.36,18.84 L105.51,18.85 L106.66,18.85 L107.81,18.85 L108.95,18.86 L110.10,18.86 L111.25,18.87 L112.40,18.87 L113.55,18.88 L114.70,18.88 L115.84,18.88 L116.99,18.89 L118.14,18.89 L119.29,18.90 L120.44,18.90 L121.59,18.91 L122.73,18.91 L123.88,18.92 L125.03,18.92 L126.18,18.93 L127.33,18.93 L128.48,18.94 L129.63,18.94 L130.77,18.95 L131.92,18.96 L133.07,18.96 L134.22,18.97 L135.37,18.97 L136.52,18.98 L137.66,18.99 L138.81,18.99 L139.96,19.00 L141.11,19.01 L142.26,19.01 L143.41,19.02 L144.55,19.03 L145.70,19.03 L146.85,19.04 L148.00,19.05 L149.15,19.05 L150.30,19.06 L151.44,19.07 L152.59,19.07 L153.74,19.08 L154.89,19.09 L156.04,19.09 L157.19,19.10 L158.33,19.11 L159.48,19.12 L160.63,19.12 L161.78,19.13 L162.93,19.14 L164.08,19.15 L165.22,19.15 L166.37,19.16 L167.52,19.17 L168.67,19.18 L169.82,19.19 L170.97,19.19 L172.11,19.20 L173.26,19.21 L174.41,19.22 L175.56,19.23 L176.71,19.23 L177.86,19.24 L179.01,19.25 L180.15,19.26 L181.30,19.27 L182.45,19.27 L183.60,19.28 L184.75,19.29 L185.90,19.30 L187.04,19.31 L188.19,19.31 L189.34,19.32 L190.49,19.33 L191.64,19.34 L192.79,19.35 L193.93,19.36 L195.08,19.36 L196.23,19.37 L197.38,19.38 L198.53,19.39 L199.68,19.40 L200.82,19.41 L201.97,19.41 L203.12,19.42 L204.27,19.43 L205.42,19.44 L206.57,19.44 L207.71,19.45 L208.86,19.46 L210.01,19.47 L211.16,19.47 L212.31,19.48 L213.46,19.49 L214.60,19.50 L215.75,19.50 L216.90,19.51 L218.05,19.52 L219.20,19.53 L220.35,19.54 L221.49,19.55 L222.64,19.56 L223.79,19.57 L224.94,19.58 L226.09,19.59 L227.24,19.60 L228.38,19.61 L229.53,19.62 L230.68,19.63 L231.83,19.65 L232.98,19.66 L234.13,19.68 L235.28,19.69 L236.42,19.71 L237.57,19.72 L238.72,19.74 L239.87,19.76 L241.02,19.78 L242.17,19.80 L243.31,19.82 L244.46,19.84 L245.61,19.86 L246.76,19.88 L247.91,19.91 L249.06,19.93 L250.20,19.96 L251.35,19.99 L252.50,20.02 L253.65,20.08 L254.80,20.16 L255.95,20.27 L257.09,20.39 L258.24,20.54 L259.39,20.71 L260.54,20.90 L261.69,21.10 L262.84,21.32 L263.98,21.56 L265.13,21.81 L266.28,22.07 L267.43,22.35 L268.58,22.63 L269.73,22.93 L270.87,23.23 L272.02,23.55 L273.17,23.90 L274.32,24.29 L275.47,24.73 L276.62,25.22 L277.76,25.75 L278.91,26.33 L280.06,26.95 L281.21,27.63 L282.36,28.35 L283.51,29.12 L284.66,29.94 L285.80,30.81 L286.95,31.73 L288.10,32.70 L289.25,33.73 L290.40,34.80 L291.55,35.93 L292.69,37.15 L293.84,38.64 L294.99,40.43 L296.14,42.48 L297.29,44.80 L298.44,47.36 L299.58,50.15 L300.16,51.63 L300.73,53.16 L301.31,54.74 L301.88,56.44 L302.45,58.39 L303.03,60.57 L303.41,62.14 L303.79,63.81 L304.18,65.56 L304.56,67.40 L304.94,69.31 L305.33,71.41 L305.56,72.84 L305.79,74.37 L306.01,75.98 L306.24,77.65 L306.47,79.36 L306.70,81.07 L306.93,82.79 L307.16,84.47 L307.39,86.10 L307.62,87.66 L307.91,89.47 L308.20,91.13 L308.48,92.74 L308.77,94.30 L309.15,96.33 L309.54,98.28 L309.92,100.17 L310.30,101.99 L310.68,103.75 L311.07,105.46 L311.45,106.98 L311.83,108.39 L312.22,110.08 L312.45,111.35 L312.68,112.78 L312.91,114.36 L313.13,116.06 L313.36,117.88 L313.56,119.46 L313.75,121.10 L313.94,122.77 L314.13,124.48 L314.32,126.22 L314.51,127.96 L314.70,129.70 L314.90,131.43 L315.09,133.14 L315.28,134.81 L315.47,136.47 L315.66,138.14 L315.85,139.82 L316.04,141.51 L316.24,143.22 L316.43,144.94 L316.62,146.69 L316.81,148.45 L316.97,149.98 L317.14,151.53 L317.30,153.10 L317.47,154.68 L317.63,156.29 L317.79,157.92 L317.96,159.57 L318.10,161.05 L318.24,162.60 L318.39,164.21 L318.53,165.88 L318.68,167.58 L318.82,169.31 L318.96,171.06 L319.11,172.81 L319.25,174.56 L319.39,176.29 L319.54,177.99 L319.68,179.65 L319.82,181.27 L319.97,182.82 L320.11,184.29 L320.25,185.69 L320.45,187.40 L320.64,189.04 L320.83,190.67 L321.02,192.26 L321.21,193.83 L321.40,195.38 L321.63,197.19 L321.86,198.94 L322.09,200.65 L322.32,202.29 L322.55,203.88 L322.84,205.76 L323.13,207.53 L323.41,209.18 L323.70,210.69 L324.08,212.50 L324.47,214.06 L324.85,215.43 L325.42,217.24 L326.00,218.85 L326.57,220.38 L327.14,221.95 L327.72,223.68 L328.29,225.51 L328.87,227.38 L329.44,229.26 L330.02,231.11 L330.59,232.90 L331.16,234.60 L331.74,236.17 L332.31,237.72 L332.89,239.27 L334.04,242.20 L335.18,244.68 L336.33,246.44 L337.48,247.88 L338.63,249.15 L339.78,250.21 L340.93,251.02 L342.07,251.52 L343.22,251.86 L344.37,252.17 L345.52,252.43 L346.67,252.66 L347.82,252.86 L348.96,253.02 L350.11,253.15 L351.26,253.24 L352.41,253.31 L353.56,253.36 L354.71,253.41 L355.85,253.46 L357.00,253.50 L358.15,253.54 L359.30,253.57 L360.45,253.60 L361.60,253.63 L362.74,253.66 L363.89,253.68 L365.04,253.71 L366.19,253.73 L367.34,253.74 L368.49,253.76 L369.63,253.77 L370.78,253.79 L371.93,253.80 L373.08,253.81 L374.23,253.82 L375.38,253.83 L376.52,253.84 L377.67,253.86 L378.82,253.87 L379.97,253.88 L381.12,253.89 L382.27,253.90 L383.42,253.91 L384.56,253.92 L385.71,253.93 L386.86,253.94 L388.01,253.95 L389.16,253.96 L390.31,253.97 L391.45,253.98 L392.60,253.99 L393.75,254.00 L394.90,254.01 L396.05,254.02 L397.20,254.03 L398.34,254.04 L399.49,254.05 L400.64,254.06 L401.79,254.07 L402.94,254.08 L404.09,254.09 L405.23,254.10 L406.38,254.11 L407.53,254.11 L408.68,254.12 L409.83,254.13 L410.98,254.14 L412.12,254.15 L413.27,254.16 L414.42,254.17 L415.57,254.17 L416.72,254.18 L417.87,254.19 L419.01,254.20 L420.16,254.21 L421.31,254.21 L422.46,254.22 L423.61,254.23 L424.76,254.24 L425.90,254.25 L427.05,254.25 L428.20,254.26 L429.35,254.27 L430.50,254.28 L431.65,254.28 L432.79,254.29 L433.94,254.30 L435.09,254.30 L436.24,254.31 L437.39,254.32 L438.54,254.32 L439.69,254.33 L440.83,254.34 L441.98,254.34 L443.13,254.35 L444.28,254.36 L445.43,254.36 L446.58,254.37 L447.72,254.37 L448.87,254.38 L450.02,254.39 L451.17,254.39 L452.32,254.40 L453.47,254.40 L454.61,254.41 L455.76,254.41 L456.91,254.42 L458.06,254.42 L459.21,254.43 L460.36,254.44 L461.50,254.44 L462.65,254.45 L463.80,254.45 L464.95,254.45 L466.10,254.46 L467.25,254.46 L468.39,254.47 L469.54,254.47 L470.69,254.48 L471.84,254.48 L472.99,254.49 L474.14,254.49 L475.28,254.49 L476.43,254.50 L477.58,254.50 L478.73,254.51 L479.88,254.51 L481.03,254.51 L482.17,254.52 L483.32,254.52 L484.47,254.52 L485.62,254.53 L486.77,254.53 L487.92,254.53 L489.07,254.54 L490.21,254.54 L491.36,254.54 L492.51,254.55 L493.66,254.55 L494.81,254.55 L495.96,254.56 L497.10,254.56 L498.25,254.56 L499.40,254.56 L500.55,254.57 L501.70,254.57 L502.85,254.57 L503.99,254.57 L505.14,254.57 L506.29,254.58 L507.44,254.58 L508.59,254.58 L509.74,254.58 L510.88,254.58 L512.03,254.58 L513.18,254.59 L514.33,254.59 L515.48,254.59 L516.63,254.59 L517.77,254.59 L518.92,254.59 L520.07,254.59 L521.22,254.59 L522.37,254.60 L523.52,254.60 L524.66,254.60 L525.81,254.60 L526.96,254.60 L528.11,254.60 L529.26,254.60 L530.41,254.60 L531.55,254.60 L532.70,254.60 L533.85,254.60 L535.00,254.60" fill="none" stroke="#424242" stroke-width="1.55" stroke-linejoin="round"/><polygon points="91.80,13.36 97.25,18.81 91.80,24.26 86.35,18.81" fill="#fff" stroke="#424242" stroke-width="1.10"/><polygon points="112.50,13.42 117.95,18.87 112.50,24.32 107.05,18.87" fill="#fff" stroke="#424242" stroke-width="1.10"/><polygon points="131.10,13.50 136.55,18.95 131.10,24.40 125.65,18.95" fill="#fff" stroke="#424242" stroke-width="1.10"/><polygon points="150.80,13.61 156.25,19.06 150.80,24.51 145.35,19.06" fill="#fff" stroke="#424242" stroke-width="1.10"/><polygon points="170.90,13.74 176.35,19.19 170.90,24.64 165.45,19.19" fill="#fff" stroke="#424242" stroke-width="1.10"/><polygon points="191.00,13.88 196.45,19.33 191.00,24.78 185.55,19.33" fill="#fff" stroke="#424242" stroke-width="1.10"/><polygon points="211.70,14.03 217.15,19.48 211.70,24.93 206.25,19.48" fill="#fff" stroke="#424242" stroke-width="1.10"/><polygon points="232.10,14.20 237.55,19.65 232.10,25.10 226.65,19.65" fill="#fff" stroke="#424242" stroke-width="1.10"/><polygon points="252.50,14.57 257.95,20.02 252.50,25.47 247.05,20.02" fill="#fff" stroke="#424242" stroke-width="1.10"/><polygon points="272.10,18.12 277.55,23.57 272.10,29.02 266.65,23.57" fill="#fff" stroke="#424242" stroke-width="1.10"/><polygon points="291.80,30.74 297.25,36.19 291.80,41.64 286.35,36.19" fill="#fff" stroke="#424242" stroke-width="1.10"/><polygon points="311.20,100.57 316.65,106.02 311.20,111.47 305.75,106.02" fill="#fff" stroke="#424242" stroke-width="1.10"/><polygon points="331.60,230.35 337.05,235.80 331.60,241.25 326.15,235.80" fill="#fff" stroke="#424242" stroke-width="1.10"/><polygon points="352.20,247.85 357.65,253.30 352.20,258.75 346.75,253.30" fill="#fff" stroke="#424242" stroke-width="1.10"/><polygon points="372.00,248.35 377.45,253.80 372.00,259.25 366.55,253.80" fill="#fff" stroke="#424242" stroke-width="1.10"/><polygon points="392.90,248.54 398.35,253.99 392.90,259.44 387.45,253.99" fill="#fff" stroke="#424242" stroke-width="1.10"/><polygon points="412.90,248.70 418.35,254.15 412.90,259.60 407.45,254.15" fill="#fff" stroke="#424242" stroke-width="1.10"/><polygon points="433.00,248.84 438.45,254.29 433.00,259.74 427.55,254.29" fill="#fff" stroke="#424242" stroke-width="1.10"/><polygon points="453.00,248.95 458.45,254.40 453.00,259.85 447.55,254.40" fill="#fff" stroke="#424242" stroke-width="1.10"/><polygon points="472.90,249.04 478.35,254.49 472.90,259.94 467.45,254.49" fill="#fff" stroke="#424242" stroke-width="1.10"/><polygon points="492.60,249.10 498.05,254.55 492.60,260.00 487.15,254.55" fill="#fff" stroke="#424242" stroke-width="1.10"/><polygon points="512.20,249.13 517.65,254.58 512.20,260.03 506.75,254.58" fill="#fff" stroke="#424242" stroke-width="1.10"/><polygon points="531.40,249.15 536.85,254.60 531.40,260.05 525.95,254.60" fill="#fff" stroke="#424242" stroke-width="1.10"/><path d="M76.80,19.90 L77.95,19.91 L79.10,19.91 L80.25,19.92 L81.39,19.92 L82.54,19.93 L83.69,19.93 L84.84,19.94 L85.99,19.94 L87.14,19.95 L88.28,19.95 L89.43,19.96 L90.58,19.96 L91.73,19.97 L92.88,19.98 L94.03,19.98 L95.17,19.99 L96.32,19.99 L97.47,20.00 L98.62,20.00 L99.77,20.01 L100.92,20.02 L102.06,20.02 L103.21,20.03 L104.36,20.03 L105.51,20.04 L106.66,20.05 L107.81,20.05 L108.95,20.06 L110.10,20.06 L111.25,20.07 L112.40,20.08 L113.55,20.08 L114.70,20.09 L115.84,20.10 L116.99,20.10 L118.14,20.11 L119.29,20.12 L120.44,20.12 L121.59,20.13 L122.73,20.14 L123.88,20.14 L125.03,20.15 L126.18,20.15 L127.33,20.16 L128.48,20.17 L129.63,20.18 L130.77,20.18 L131.92,20.19 L133.07,20.20 L134.22,20.20 L135.37,20.21 L136.52,20.22 L137.66,20.22 L138.81,20.23 L139.96,20.24 L141.11,20.24 L142.26,20.25 L143.41,20.26 L144.55,20.27 L145.70,20.27 L146.85,20.28 L148.00,20.29 L149.15,20.29 L150.30,20.30 L151.44,20.31 L152.59,20.32 L153.74,20.32 L154.89,20.33 L156.04,20.34 L157.19,20.34 L158.33,20.35 L159.48,20.36 L160.63,20.37 L161.78,20.37 L162.93,20.38 L164.08,20.39 L165.22,20.39 L166.37,20.40 L167.52,20.41 L168.67,20.41 L169.82,20.42 L170.97,20.43 L172.11,20.44 L173.26,20.44 L174.41,20.45 L175.56,20.46 L176.71,20.46 L177.86,20.47 L179.01,20.48 L180.15,20.49 L181.30,20.49 L182.45,20.50 L183.60,20.51 L184.75,20.51 L185.90,20.52 L187.04,20.53 L188.19,20.54 L189.34,20.55 L190.49,20.55 L191.64,20.56 L192.79,20.57 L193.93,20.58 L195.08,20.59 L196.23,20.59 L197.38,20.60 L198.53,20.61 L199.68,20.62 L200.82,20.63 L201.97,20.64 L203.12,20.65 L204.27,20.66 L205.42,20.67 L206.57,20.68 L207.71,20.69 L208.86,20.70 L210.01,20.71 L211.16,20.72 L212.31,20.73 L213.46,20.74 L214.60,20.75 L215.75,20.76 L216.90,20.77 L218.05,20.78 L219.20,20.79 L220.35,20.80 L221.49,20.82 L222.64,20.83 L223.79,20.84 L224.94,20.85 L226.09,20.87 L227.24,20.88 L228.38,20.89 L229.53,20.91 L230.68,20.92 L231.83,20.93 L232.98,20.95 L234.13,20.97 L235.28,20.98 L236.42,21.00 L237.57,21.02 L238.72,21.04 L239.87,21.06 L241.02,21.09 L242.17,21.11 L243.31,21.14 L244.46,21.17 L245.61,21.20 L246.76,21.24 L247.91,21.27 L249.06,21.32 L250.20,21.37 L251.35,21.42 L252.50,21.48 L253.65,21.55 L254.80,21.62 L255.95,21.70 L257.09,21.78 L258.24,21.87 L259.39,21.97 L260.54,22.07 L261.69,22.18 L262.84,22.30 L263.98,22.42 L265.13,22.56 L266.28,22.70 L267.43,22.89 L268.58,23.12 L269.73,23.39 L270.87,23.71 L272.02,24.06 L273.17,24.45 L274.32,24.87 L275.47,25.34 L276.62,25.83 L277.76,26.37 L278.91,26.94 L280.06,27.54 L281.21,28.17 L282.36,28.83 L283.51,29.53 L284.66,30.25 L285.80,31.01 L286.95,31.89 L288.10,32.94 L289.25,34.14 L290.40,35.49 L291.55,36.98 L292.69,38.62 L293.84,40.39 L294.99,42.29 L296.14,44.31 L297.29,46.45 L298.44,48.70 L299.58,51.06 L300.73,53.52 L301.88,56.15 L302.45,57.70 L303.03,59.43 L303.60,61.31 L304.18,63.31 L304.75,65.43 L305.33,67.63 L305.71,69.13 L306.09,70.72 L306.47,72.42 L306.86,74.21 L307.24,76.10 L307.62,78.04 L307.91,79.53 L308.20,81.04 L308.48,82.57 L308.77,84.09 L309.06,85.62 L309.35,87.13 L309.63,88.63 L309.92,90.10 L310.21,91.59 L310.49,93.13 L310.78,94.71 L311.07,96.29 L311.35,97.87 L311.64,99.42 L311.93,100.92 L312.22,102.36 L312.60,104.14 L312.98,105.70 L313.36,106.97 L313.75,108.19 L314.13,109.68 L314.51,111.68 L314.74,113.15 L314.97,114.77 L315.20,116.55 L315.43,118.45 L315.66,120.45 L315.83,121.94 L315.99,123.46 L316.15,125.00 L316.32,126.57 L316.48,128.14 L316.65,129.73 L316.81,131.30 L316.97,132.87 L317.14,134.42 L317.30,135.95 L317.47,137.50 L317.63,139.08 L317.79,140.69 L317.96,142.31 L318.10,143.76 L318.24,145.22 L318.39,146.71 L318.53,148.21 L318.68,149.74 L318.82,151.28 L318.96,152.84 L319.11,154.42 L319.23,155.84 L319.36,157.27 L319.49,158.73 L319.62,160.19 L319.74,161.75 L319.87,163.41 L320.00,165.16 L320.13,166.99 L320.25,168.86 L320.37,170.57 L320.48,172.29 L320.60,173.99 L320.71,175.68 L320.83,177.33 L320.94,178.92 L321.06,180.45 L321.17,181.89 L321.29,183.23 L321.40,184.46 L321.69,186.93 L321.98,188.78 L322.26,190.41 L322.55,191.86 L322.93,193.57 L323.32,195.08 L323.70,196.46 L324.27,198.44 L324.85,200.52 L325.23,202.09 L325.61,203.87 L326.00,205.98 L326.28,207.72 L326.57,209.50 L326.86,211.22 L327.14,212.80 L327.72,215.28 L328.29,217.26 L328.87,219.02 L329.44,220.80 L330.02,222.78 L330.59,224.97 L330.97,226.51 L331.36,228.07 L331.74,229.65 L332.12,231.22 L332.50,232.75 L332.89,234.22 L333.46,236.29 L334.04,238.10 L334.61,239.79 L335.18,241.46 L335.76,243.10 L336.33,244.68 L337.48,247.59 L338.63,250.00 L339.78,251.75 L340.93,252.93 L342.07,253.99 L343.22,254.90 L344.37,255.63 L345.52,256.14 L346.67,256.40 L347.82,256.49 L348.96,256.58 L350.11,256.67 L351.26,256.74 L352.41,256.80 L353.56,256.86 L354.71,256.92 L355.85,256.96 L357.00,257.01 L358.15,257.04 L359.30,257.08 L360.45,257.10 L361.60,257.13 L362.74,257.15 L363.89,257.17 L365.04,257.18 L366.19,257.20 L367.34,257.21 L368.49,257.22 L369.63,257.23 L370.78,257.24 L371.93,257.26 L373.08,257.27 L374.23,257.28 L375.38,257.29 L376.52,257.30 L377.67,257.31 L378.82,257.32 L379.97,257.34 L381.12,257.35 L382.27,257.36 L383.42,257.37 L384.56,257.38 L385.71,257.39 L386.86,257.40 L388.01,257.41 L389.16,257.42 L390.31,257.43 L391.45,257.44 L392.60,257.45 L393.75,257.46 L394.90,257.47 L396.05,257.48 L397.20,257.49 L398.34,257.50 L399.49,257.51 L400.64,257.52 L401.79,257.53 L402.94,257.54 L404.09,257.54 L405.23,257.55 L406.38,257.56 L407.53,257.57 L408.68,257.58 L409.83,257.59 L410.98,257.60 L412.12,257.60 L413.27,257.61 L414.42,257.62 L415.57,257.63 L416.72,257.64 L417.87,257.64 L419.01,257.65 L420.16,257.66 L421.31,257.67 L422.46,257.67 L423.61,257.68 L424.76,257.69 L425.90,257.69 L427.05,257.70 L428.20,257.71 L429.35,257.72 L430.50,257.72 L431.65,257.73 L432.79,257.74 L433.94,257.74 L435.09,257.75 L436.24,257.75 L437.39,257.76 L438.54,257.77 L439.69,257.77 L440.83,257.78 L441.98,257.78 L443.13,257.79 L444.28,257.80 L445.43,257.80 L446.58,257.81 L447.72,257.81 L448.87,257.82 L450.02,257.82 L451.17,257.83 L452.32,257.83 L453.47,257.84 L454.61,257.84 L455.76,257.85 L456.91,257.85 L458.06,257.86 L459.21,257.86 L460.36,257.87 L461.50,257.87 L462.65,257.87 L463.80,257.88 L464.95,257.88 L466.10,257.89 L467.25,257.89 L468.39,257.89 L469.54,257.90 L470.69,257.90 L471.84,257.91 L472.99,257.91 L474.14,257.91 L475.28,257.92 L476.43,257.92 L477.58,257.92 L478.73,257.93 L479.88,257.93 L481.03,257.93 L482.17,257.94 L483.32,257.94 L484.47,257.94 L485.62,257.94 L486.77,257.95 L487.92,257.95 L489.07,257.95 L490.21,257.95 L491.36,257.96 L492.51,257.96 L493.66,257.96 L494.81,257.96 L495.96,257.97 L497.10,257.97 L498.25,257.97 L499.40,257.97 L500.55,257.97 L501.70,257.98 L502.85,257.98 L503.99,257.98 L505.14,257.98 L506.29,257.98 L507.44,257.98 L508.59,257.98 L509.74,257.99 L510.88,257.99 L512.03,257.99 L513.18,257.99 L514.33,257.99 L515.48,257.99 L516.63,257.99 L517.77,257.99 L518.92,257.99 L520.07,258.00 L521.22,258.00 L522.37,258.00 L523.52,258.00 L524.66,258.00 L525.81,258.00 L526.96,258.00 L528.11,258.00 L529.26,258.00 L530.41,258.00 L531.55,258.00 L532.70,258.00 L533.85,258.00 L535.00,258.00" fill="none" stroke="#0c8a1c" stroke-width="1.50" stroke-linejoin="round"/><polygon points="85.80,15.44 90.50,23.24 81.10,23.24 85.80,15.44" fill="#fff" stroke="#0c8a1c" stroke-width="1.10"/><polygon points="85.80,15.44 88.45,19.84 83.15,19.84" fill="#0c8a1c"/><polygon points="106.50,15.55 111.20,23.35 101.80,23.35 106.50,15.55" fill="#fff" stroke="#0c8a1c" stroke-width="1.10"/><polygon points="106.50,15.55 109.15,19.95 103.85,19.95" fill="#0c8a1c"/><polygon points="125.60,15.65 130.30,23.45 120.90,23.45 125.60,15.65" fill="#fff" stroke="#0c8a1c" stroke-width="1.10"/><polygon points="125.60,15.65 128.25,20.05 122.95,20.05" fill="#0c8a1c"/><polygon points="144.70,15.77 149.40,23.57 140.00,23.57 144.70,15.77" fill="#fff" stroke="#0c8a1c" stroke-width="1.10"/><polygon points="144.70,15.77 147.35,20.17 142.05,20.17" fill="#0c8a1c"/><polygon points="164.80,15.89 169.50,23.69 160.10,23.69 164.80,15.89" fill="#fff" stroke="#0c8a1c" stroke-width="1.10"/><polygon points="164.80,15.89 167.45,20.29 162.15,20.29" fill="#0c8a1c"/><polygon points="184.70,16.01 189.40,23.81 180.00,23.81 184.70,16.01" fill="#fff" stroke="#0c8a1c" stroke-width="1.10"/><polygon points="184.70,16.01 187.35,20.41 182.05,20.41" fill="#0c8a1c"/><polygon points="205.20,16.16 209.90,23.96 200.50,23.96 205.20,16.16" fill="#fff" stroke="#0c8a1c" stroke-width="1.10"/><polygon points="205.20,16.16 207.85,20.56 202.55,20.56" fill="#0c8a1c"/><polygon points="225.30,16.36 230.00,24.16 220.60,24.16 225.30,16.36" fill="#fff" stroke="#0c8a1c" stroke-width="1.10"/><polygon points="225.30,16.36 227.95,20.76 222.65,20.76" fill="#0c8a1c"/><polygon points="245.60,16.70 250.30,24.50 240.90,24.50 245.60,16.70" fill="#fff" stroke="#0c8a1c" stroke-width="1.10"/><polygon points="245.60,16.70 248.25,21.10 242.95,21.10" fill="#0c8a1c"/><polygon points="265.50,18.10 270.20,25.90 260.80,25.90 265.50,18.10" fill="#fff" stroke="#0c8a1c" stroke-width="1.10"/><polygon points="265.50,18.10 268.15,22.50 262.85,22.50" fill="#0c8a1c"/><polygon points="285.50,26.30 290.20,34.10 280.80,34.10 285.50,26.30" fill="#fff" stroke="#0c8a1c" stroke-width="1.10"/><polygon points="285.50,26.30 288.15,30.70 282.85,30.70" fill="#0c8a1c"/><polygon points="305.70,64.60 310.40,72.40 301.00,72.40 305.70,64.60" fill="#fff" stroke="#0c8a1c" stroke-width="1.10"/><polygon points="305.70,64.60 308.35,69.00 303.05,69.00" fill="#0c8a1c"/><polygon points="325.60,199.30 330.30,207.10 320.90,207.10 325.60,199.30" fill="#fff" stroke="#0c8a1c" stroke-width="1.10"/><polygon points="325.60,199.30 328.25,203.70 322.95,203.70" fill="#0c8a1c"/><polygon points="346.70,251.90 351.40,259.70 342.00,259.70 346.70,251.90" fill="#fff" stroke="#0c8a1c" stroke-width="1.10"/><polygon points="346.70,251.90 349.35,256.30 344.05,256.30" fill="#0c8a1c"/><polygon points="366.60,252.70 371.30,260.50 361.90,260.50 366.60,252.70" fill="#fff" stroke="#0c8a1c" stroke-width="1.10"/><polygon points="366.60,252.70 369.25,257.10 363.95,257.10" fill="#0c8a1c"/><polygon points="387.20,252.90 391.90,260.70 382.50,260.70 387.20,252.90" fill="#fff" stroke="#0c8a1c" stroke-width="1.10"/><polygon points="387.20,252.90 389.85,257.30 384.55,257.30" fill="#0c8a1c"/><polygon points="407.30,253.07 412.00,260.87 402.60,260.87 407.30,253.07" fill="#fff" stroke="#0c8a1c" stroke-width="1.10"/><polygon points="407.30,253.07 409.95,257.47 404.65,257.47" fill="#0c8a1c"/><polygon points="427.30,253.20 432.00,261.00 422.60,261.00 427.30,253.20" fill="#fff" stroke="#0c8a1c" stroke-width="1.10"/><polygon points="427.30,253.20 429.95,257.60 424.65,257.60" fill="#0c8a1c"/><polygon points="447.30,253.31 452.00,261.11 442.60,261.11 447.30,253.31" fill="#fff" stroke="#0c8a1c" stroke-width="1.10"/><polygon points="447.30,253.31 449.95,257.71 444.65,257.71" fill="#0c8a1c"/><polygon points="467.20,253.39 471.90,261.19 462.50,261.19 467.20,253.39" fill="#fff" stroke="#0c8a1c" stroke-width="1.10"/><polygon points="467.20,253.39 469.85,257.79 464.55,257.79" fill="#0c8a1c"/><polygon points="487.30,253.45 492.00,261.25 482.60,261.25 487.30,253.45" fill="#fff" stroke="#0c8a1c" stroke-width="1.10"/><polygon points="487.30,253.45 489.95,257.85 484.65,257.85" fill="#0c8a1c"/><polygon points="507.20,253.48 511.90,261.28 502.50,261.28 507.20,253.48" fill="#fff" stroke="#0c8a1c" stroke-width="1.10"/><polygon points="507.20,253.48 509.85,257.88 504.55,257.88" fill="#0c8a1c"/><polygon points="526.60,253.50 531.30,261.30 521.90,261.30 526.60,253.50" fill="#fff" stroke="#0c8a1c" stroke-width="1.10"/><polygon points="526.60,253.50 529.25,257.90 523.95,257.90" fill="#0c8a1c"/><path d="M76.80,19.00 L77.95,19.00 L79.10,19.01 L80.25,19.01 L81.39,19.01 L82.54,19.02 L83.69,19.02 L84.84,19.03 L85.99,19.03 L87.14,19.03 L88.28,19.04 L89.43,19.04 L90.58,19.05 L91.73,19.05 L92.88,19.05 L94.03,19.06 L95.17,19.06 L96.32,19.07 L97.47,19.07 L98.62,19.08 L99.77,19.08 L100.92,19.08 L102.06,19.09 L103.21,19.09 L104.36,19.10 L105.51,19.10 L106.66,19.11 L107.81,19.11 L108.95,19.12 L110.10,19.12 L111.25,19.13 L112.40,19.13 L113.55,19.13 L114.70,19.14 L115.84,19.14 L116.99,19.15 L118.14,19.15 L119.29,19.16 L120.44,19.16 L121.59,19.17 L122.73,19.17 L123.88,19.18 L125.03,19.18 L126.18,19.19 L127.33,19.19 L128.48,19.20 L129.63,19.20 L130.77,19.21 L131.92,19.21 L133.07,19.22 L134.22,19.22 L135.37,19.23 L136.52,19.24 L137.66,19.24 L138.81,19.25 L139.96,19.25 L141.11,19.26 L142.26,19.26 L143.41,19.27 L144.55,19.27 L145.70,19.28 L146.85,19.28 L148.00,19.29 L149.15,19.30 L150.30,19.30 L151.44,19.31 L152.59,19.31 L153.74,19.32 L154.89,19.32 L156.04,19.33 L157.19,19.33 L158.33,19.34 L159.48,19.34 L160.63,19.35 L161.78,19.35 L162.93,19.36 L164.08,19.36 L165.22,19.37 L166.37,19.37 L167.52,19.37 L168.67,19.38 L169.82,19.38 L170.97,19.39 L172.11,19.39 L173.26,19.39 L174.41,19.40 L175.56,19.40 L176.71,19.41 L177.86,19.41 L179.01,19.42 L180.15,19.42 L181.30,19.42 L182.45,19.43 L183.60,19.43 L184.75,19.44 L185.90,19.44 L187.04,19.45 L188.19,19.45 L189.34,19.45 L190.49,19.46 L191.64,19.46 L192.79,19.47 L193.93,19.47 L195.08,19.48 L196.23,19.48 L197.38,19.49 L198.53,19.49 L199.68,19.50 L200.82,19.51 L201.97,19.51 L203.12,19.52 L204.27,19.52 L205.42,19.53 L206.57,19.54 L207.71,19.54 L208.86,19.55 L210.01,19.56 L211.16,19.56 L212.31,19.57 L213.46,19.58 L214.60,19.59 L215.75,19.59 L216.90,19.60 L218.05,19.61 L219.20,19.62 L220.35,19.63 L221.49,19.64 L222.64,19.65 L223.79,19.66 L224.94,19.67 L226.09,19.68 L227.24,19.69 L228.38,19.70 L229.53,19.71 L230.68,19.72 L231.83,19.73 L232.98,19.75 L234.13,19.76 L235.28,19.77 L236.42,19.78 L237.57,19.80 L238.72,19.81 L239.87,19.82 L241.02,19.84 L242.17,19.85 L243.31,19.87 L244.46,19.88 L245.61,19.90 L246.76,19.92 L247.91,19.95 L249.06,19.99 L250.20,20.03 L251.35,20.09 L252.50,20.15 L253.65,20.22 L254.80,20.29 L255.95,20.37 L257.09,20.46 L258.24,20.55 L259.39,20.65 L260.54,20.75 L261.69,20.86 L262.84,20.98 L263.98,21.09 L265.13,21.22 L266.28,21.34 L267.43,21.49 L268.58,21.65 L269.73,21.84 L270.87,22.05 L272.02,22.27 L273.17,22.52 L274.32,22.79 L275.47,23.08 L276.62,23.39 L277.76,23.72 L278.91,24.07 L280.06,24.44 L281.21,24.83 L282.36,25.24 L283.51,25.67 L284.66,26.11 L285.80,26.58 L286.95,27.08 L288.10,27.64 L289.25,28.28 L290.40,28.99 L291.55,29.78 L292.69,30.63 L293.84,31.55 L294.99,32.54 L296.14,33.59 L297.29,34.72 L298.44,35.91 L299.58,37.16 L300.73,38.48 L301.88,39.87 L303.03,41.32 L304.18,42.84 L305.33,44.41 L306.47,46.06 L307.62,48.07 L308.77,50.56 L309.92,53.43 L310.49,54.98 L311.07,56.64 L311.64,58.44 L312.22,60.37 L312.79,62.43 L313.36,64.60 L313.75,66.10 L314.13,67.65 L314.51,69.24 L314.90,70.86 L315.28,72.52 L315.66,74.20 L316.04,75.92 L316.43,77.66 L316.81,79.42 L317.19,81.20 L317.58,82.99 L317.96,84.80 L318.34,86.62 L318.72,88.47 L319.11,90.35 L319.49,92.25 L319.87,94.19 L320.25,96.17 L320.54,97.67 L320.83,99.20 L321.12,100.75 L321.40,102.32 L321.69,103.92 L321.98,105.55 L322.26,107.20 L322.55,108.88 L322.84,110.58 L323.13,112.32 L323.41,114.09 L323.70,115.89 L323.93,117.35 L324.16,118.84 L324.39,120.34 L324.62,121.87 L324.85,123.42 L325.08,125.00 L325.31,126.59 L325.54,128.22 L325.77,129.86 L326.00,131.54 L326.19,132.96 L326.38,134.43 L326.57,135.96 L326.76,137.54 L326.95,139.18 L327.14,140.87 L327.31,142.35 L327.47,143.87 L327.64,145.41 L327.80,146.99 L327.97,148.59 L328.13,150.21 L328.29,151.86 L328.44,153.32 L328.58,154.80 L328.72,156.31 L328.87,157.88 L329.01,159.50 L329.15,161.17 L329.30,162.89 L329.44,164.63 L329.57,166.19 L329.70,167.77 L329.82,169.36 L329.95,170.95 L330.08,172.53 L330.21,174.11 L330.33,175.67 L330.46,177.21 L330.59,178.72 L330.73,180.39 L330.88,182.03 L331.02,183.67 L331.16,185.31 L331.31,186.93 L331.45,188.55 L331.59,190.16 L331.74,191.77 L331.88,193.37 L332.03,194.97 L332.17,196.56 L332.31,198.14 L332.46,199.72 L332.60,201.30 L332.74,202.87 L332.89,204.44 L333.03,206.00 L333.17,207.55 L333.32,209.11 L333.46,210.66 L333.60,212.26 L333.75,213.90 L333.89,215.55 L334.04,217.22 L334.20,219.12 L334.36,220.99 L334.53,222.80 L334.69,224.55 L334.86,226.19 L335.02,227.72 L335.18,229.11 L335.41,230.81 L335.64,232.40 L335.87,233.90 L336.10,235.34 L336.33,236.70 L336.71,238.83 L337.10,240.80 L337.48,242.63 L337.86,244.34 L338.25,245.97 L338.63,247.52 L339.20,249.79 L339.78,251.98 L340.35,254.05 L340.93,255.97 L341.50,257.68 L342.07,259.15 L343.22,261.29 L344.37,263.04 L345.52,264.36 L346.67,264.99 L347.82,265.15 L348.96,265.29 L350.11,265.42 L351.26,265.52 L352.41,265.62 L353.56,265.71 L354.71,265.78 L355.85,265.84 L357.00,265.90 L358.15,265.95 L359.30,265.99 L360.45,266.03 L361.60,266.06 L362.74,266.09 L363.89,266.13 L365.04,266.16 L366.19,266.19 L367.34,266.22 L368.49,266.25 L369.63,266.28 L370.78,266.31 L371.93,266.34 L373.08,266.37 L374.23,266.39 L375.38,266.41 L376.52,266.44 L377.67,266.46 L378.82,266.48 L379.97,266.50 L381.12,266.51 L382.27,266.53 L383.42,266.55 L384.56,266.57 L385.71,266.58 L386.86,266.60 L388.01,266.61 L389.16,266.63 L390.31,266.64 L391.45,266.66 L392.60,266.67 L393.75,266.69 L394.90,266.70 L396.05,266.72 L397.20,266.73 L398.34,266.74 L399.49,266.76 L400.64,266.77 L401.79,266.78 L402.94,266.79 L404.09,266.81 L405.23,266.82 L406.38,266.83 L407.53,266.84 L408.68,266.85 L409.83,266.86 L410.98,266.87 L412.12,266.88 L413.27,266.89 L414.42,266.90 L415.57,266.91 L416.72,266.92 L417.87,266.93 L419.01,266.94 L420.16,266.95 L421.31,266.96 L422.46,266.97 L423.61,266.98 L424.76,266.98 L425.90,266.99 L427.05,267.00 L428.20,267.01 L429.35,267.02 L430.50,267.02 L431.65,267.03 L432.79,267.04 L433.94,267.05 L435.09,267.05 L436.24,267.06 L437.39,267.07 L438.54,267.08 L439.69,267.08 L440.83,267.09 L441.98,267.10 L443.13,267.11 L444.28,267.11 L445.43,267.12 L446.58,267.13 L447.72,267.14 L448.87,267.14 L450.02,267.15 L451.17,267.16 L452.32,267.17 L453.47,267.17 L454.61,267.18 L455.76,267.19 L456.91,267.19 L458.06,267.20 L459.21,267.21 L460.36,267.22 L461.50,267.22 L462.65,267.23 L463.80,267.24 L464.95,267.24 L466.10,267.25 L467.25,267.26 L468.39,267.26 L469.54,267.27 L470.69,267.28 L471.84,267.28 L472.99,267.29 L474.14,267.29 L475.28,267.30 L476.43,267.31 L477.58,267.31 L478.73,267.32 L479.88,267.33 L481.03,267.33 L482.17,267.34 L483.32,267.34 L484.47,267.35 L485.62,267.35 L486.77,267.36 L487.92,267.36 L489.07,267.37 L490.21,267.38 L491.36,267.38 L492.51,267.39 L493.66,267.39 L494.81,267.40 L495.96,267.40 L497.10,267.41 L498.25,267.41 L499.40,267.41 L500.55,267.42 L501.70,267.42 L502.85,267.43 L503.99,267.43 L505.14,267.44 L506.29,267.44 L507.44,267.44 L508.59,267.45 L509.74,267.45 L510.88,267.45 L512.03,267.46 L513.18,267.46 L514.33,267.46 L515.48,267.47 L516.63,267.47 L517.77,267.47 L518.92,267.48 L520.07,267.48 L521.22,267.48 L522.37,267.48 L523.52,267.49 L524.66,267.49 L525.81,267.49 L526.96,267.49 L528.11,267.49 L529.26,267.49 L530.41,267.50 L531.55,267.50 L532.70,267.50 L533.85,267.50 L535.00,267.50" fill="none" stroke="#9a22ff" stroke-width="1.50" stroke-linejoin="round"/><circle cx="77.00" cy="19.00" r="3.60" fill="#fff" stroke="#9a22ff" stroke-width="1.10"/><path d="M72.85,19.00 A4.15,4.15 0 0 1 81.15,19.00 Z" fill="#9a22ff"/><circle cx="85.80" cy="19.03" r="3.60" fill="#fff" stroke="#9a22ff" stroke-width="1.10"/><path d="M81.65,19.03 A4.15,4.15 0 0 1 89.95,19.03 Z" fill="#9a22ff"/><circle cx="106.50" cy="19.11" r="3.60" fill="#fff" stroke="#9a22ff" stroke-width="1.10"/><path d="M102.35,19.11 A4.15,4.15 0 0 1 110.65,19.11 Z" fill="#9a22ff"/><circle cx="125.60" cy="19.19" r="3.60" fill="#fff" stroke="#9a22ff" stroke-width="1.10"/><path d="M121.45,19.19 A4.15,4.15 0 0 1 129.75,19.19 Z" fill="#9a22ff"/><circle cx="144.70" cy="19.27" r="3.60" fill="#fff" stroke="#9a22ff" stroke-width="1.10"/><path d="M140.55,19.27 A4.15,4.15 0 0 1 148.85,19.27 Z" fill="#9a22ff"/><circle cx="164.80" cy="19.36" r="3.60" fill="#fff" stroke="#9a22ff" stroke-width="1.10"/><path d="M160.65,19.36 A4.15,4.15 0 0 1 168.95,19.36 Z" fill="#9a22ff"/><circle cx="184.70" cy="19.44" r="3.60" fill="#fff" stroke="#9a22ff" stroke-width="1.10"/><path d="M180.55,19.44 A4.15,4.15 0 0 1 188.85,19.44 Z" fill="#9a22ff"/><circle cx="205.20" cy="19.53" r="3.60" fill="#fff" stroke="#9a22ff" stroke-width="1.10"/><path d="M201.05,19.53 A4.15,4.15 0 0 1 209.35,19.53 Z" fill="#9a22ff"/><circle cx="225.30" cy="19.67" r="3.60" fill="#fff" stroke="#9a22ff" stroke-width="1.10"/><path d="M221.15,19.67 A4.15,4.15 0 0 1 229.45,19.67 Z" fill="#9a22ff"/><circle cx="245.60" cy="19.90" r="3.60" fill="#fff" stroke="#9a22ff" stroke-width="1.10"/><path d="M241.45,19.90 A4.15,4.15 0 0 1 249.75,19.90 Z" fill="#9a22ff"/><circle cx="265.50" cy="21.26" r="3.60" fill="#fff" stroke="#9a22ff" stroke-width="1.10"/><path d="M261.35,21.26 A4.15,4.15 0 0 1 269.65,21.26 Z" fill="#9a22ff"/><circle cx="286.10" cy="26.70" r="3.60" fill="#fff" stroke="#9a22ff" stroke-width="1.10"/><path d="M281.95,26.70 A4.15,4.15 0 0 1 290.25,26.70 Z" fill="#9a22ff"/><circle cx="306.30" cy="45.80" r="3.60" fill="#fff" stroke="#9a22ff" stroke-width="1.10"/><path d="M302.15,45.80 A4.15,4.15 0 0 1 310.45,45.80 Z" fill="#9a22ff"/><circle cx="326.10" cy="132.30" r="3.60" fill="#fff" stroke="#9a22ff" stroke-width="1.10"/><path d="M321.95,132.30 A4.15,4.15 0 0 1 330.25,132.30 Z" fill="#9a22ff"/><circle cx="346.70" cy="265.00" r="3.60" fill="#fff" stroke="#9a22ff" stroke-width="1.10"/><path d="M342.55,265.00 A4.15,4.15 0 0 1 350.85,265.00 Z" fill="#9a22ff"/><circle cx="366.60" cy="266.20" r="3.60" fill="#fff" stroke="#9a22ff" stroke-width="1.10"/><path d="M362.45,266.20 A4.15,4.15 0 0 1 370.75,266.20 Z" fill="#9a22ff"/><circle cx="387.20" cy="266.60" r="3.60" fill="#fff" stroke="#9a22ff" stroke-width="1.10"/><path d="M383.05,266.60 A4.15,4.15 0 0 1 391.35,266.60 Z" fill="#9a22ff"/><circle cx="407.30" cy="266.84" r="3.60" fill="#fff" stroke="#9a22ff" stroke-width="1.10"/><path d="M403.15,266.84 A4.15,4.15 0 0 1 411.45,266.84 Z" fill="#9a22ff"/><circle cx="427.30" cy="267.00" r="3.60" fill="#fff" stroke="#9a22ff" stroke-width="1.10"/><path d="M423.15,267.00 A4.15,4.15 0 0 1 431.45,267.00 Z" fill="#9a22ff"/><circle cx="447.30" cy="267.13" r="3.60" fill="#fff" stroke="#9a22ff" stroke-width="1.10"/><path d="M443.15,267.13 A4.15,4.15 0 0 1 451.45,267.13 Z" fill="#9a22ff"/><circle cx="467.20" cy="267.26" r="3.60" fill="#fff" stroke="#9a22ff" stroke-width="1.10"/><path d="M463.05,267.26 A4.15,4.15 0 0 1 471.35,267.26 Z" fill="#9a22ff"/><circle cx="487.30" cy="267.36" r="3.60" fill="#fff" stroke="#9a22ff" stroke-width="1.10"/><path d="M483.15,267.36 A4.15,4.15 0 0 1 491.45,267.36 Z" fill="#9a22ff"/><circle cx="507.20" cy="267.44" r="3.60" fill="#fff" stroke="#9a22ff" stroke-width="1.10"/><path d="M503.05,267.44 A4.15,4.15 0 0 1 511.35,267.44 Z" fill="#9a22ff"/><circle cx="526.60" cy="267.49" r="3.60" fill="#fff" stroke="#9a22ff" stroke-width="1.10"/><path d="M522.45,267.49 A4.15,4.15 0 0 1 530.75,267.49 Z" fill="#9a22ff"/></g><rect x="100.10" y="37.10" width="158.80" height="128.30" fill="#fff" stroke="none"/><g clip-path="url(#insclip)"><path d="M100.10,45.70 L100.50,45.70 L100.90,45.70 L101.29,45.70 L101.69,45.70 L102.09,45.70 L102.49,45.70 L102.89,45.70 L103.28,45.70 L103.68,45.70 L104.08,45.70 L104.48,45.70 L104.88,45.70 L105.27,45.70 L105.67,45.70 L106.07,45.71 L106.47,45.71 L106.87,45.71 L107.26,45.71 L107.66,45.71 L108.06,45.71 L108.46,45.71 L108.86,45.71 L109.25,45.71 L109.65,45.71 L110.05,45.72 L110.45,45.72 L110.85,45.72 L111.24,45.72 L111.64,45.72 L112.04,45.72 L112.44,45.72 L112.84,45.73 L113.23,45.73 L113.63,45.73 L114.03,45.73 L114.43,45.73 L114.83,45.73 L115.22,45.74 L115.62,45.74 L116.02,45.74 L116.42,45.74 L116.82,45.74 L117.21,45.74 L117.61,45.75 L118.01,45.75 L118.41,45.75 L118.81,45.75 L119.20,45.76 L119.60,45.76 L120.00,45.76 L120.40,45.76 L120.80,45.76 L121.19,45.77 L121.59,45.77 L121.99,45.77 L122.39,45.77 L122.79,45.78 L123.18,45.78 L123.58,45.78 L123.98,45.78 L124.38,45.79 L124.78,45.79 L125.17,45.79 L125.57,45.80 L125.97,45.80 L126.37,45.80 L126.77,45.80 L127.16,45.81 L127.56,45.81 L127.96,45.81 L128.36,45.82 L128.76,45.82 L129.15,45.82 L129.55,45.83 L129.95,45.83 L130.35,45.83 L130.75,45.84 L131.14,45.84 L131.54,45.84 L131.94,45.85 L132.34,45.85 L132.74,45.85 L133.13,45.86 L133.53,45.86 L133.93,45.86 L134.33,45.87 L134.73,45.87 L135.12,45.87 L135.52,45.88 L135.92,45.88 L136.32,45.88 L136.72,45.89 L137.11,45.89 L137.51,45.90 L137.91,45.90 L138.31,45.90 L138.71,45.91 L139.10,45.91 L139.50,45.91 L139.90,45.92 L140.30,45.92 L140.70,45.93 L141.09,45.93 L141.49,45.93 L141.89,45.94 L142.29,45.94 L142.69,45.95 L143.08,45.95 L143.48,45.96 L143.88,45.96 L144.28,45.96 L144.68,45.97 L145.07,45.97 L145.47,45.98 L145.87,45.98 L146.27,45.99 L146.67,45.99 L147.06,45.99 L147.46,46.00 L147.86,46.00 L148.26,46.01 L148.66,46.01 L149.05,46.02 L149.45,46.02 L149.85,46.03 L150.25,46.03 L150.65,46.03 L151.04,46.04 L151.44,46.04 L151.84,46.05 L152.24,46.05 L152.64,46.06 L153.03,46.06 L153.43,46.07 L153.83,46.07 L154.23,46.08 L154.63,46.08 L155.02,46.09 L155.42,46.09 L155.82,46.10 L156.22,46.10 L156.62,46.11 L157.01,46.11 L157.41,46.12 L157.81,46.12 L158.21,46.13 L158.61,46.13 L159.00,46.14 L159.40,46.14 L159.80,46.15 L160.20,46.15 L160.60,46.16 L160.99,46.16 L161.39,46.17 L161.79,46.17 L162.19,46.18 L162.59,46.18 L162.98,46.19 L163.38,46.19 L163.78,46.20 L164.18,46.20 L164.58,46.21 L164.97,46.21 L165.37,46.22 L165.77,46.22 L166.17,46.23 L166.57,46.23 L166.96,46.24 L167.36,46.24 L167.76,46.25 L168.16,46.25 L168.56,46.26 L168.95,46.26 L169.35,46.27 L169.75,46.28 L170.15,46.28 L170.55,46.29 L170.94,46.29 L171.34,46.30 L171.74,46.30 L172.14,46.31 L172.54,46.31 L172.93,46.32 L173.33,46.32 L173.73,46.33 L174.13,46.33 L174.53,46.34 L174.92,46.35 L175.32,46.35 L175.72,46.36 L176.12,46.36 L176.52,46.37 L176.91,46.37 L177.31,46.38 L177.71,46.38 L178.11,46.39 L178.51,46.39 L178.90,46.40 L179.30,46.41 L179.70,46.41 L180.10,46.42 L180.49,46.42 L180.89,46.43 L181.29,46.44 L181.69,46.44 L182.09,46.45 L182.48,46.46 L182.88,46.46 L183.28,46.47 L183.68,46.48 L184.08,46.48 L184.47,46.49 L184.87,46.50 L185.27,46.51 L185.67,46.52 L186.07,46.52 L186.46,46.53 L186.86,46.54 L187.26,46.55 L187.66,46.56 L188.06,46.57 L188.45,46.57 L188.85,46.58 L189.25,46.59 L189.65,46.60 L190.05,46.61 L190.44,46.62 L190.84,46.63 L191.24,46.64 L191.64,46.65 L192.04,46.66 L192.43,46.67 L192.83,46.68 L193.23,46.68 L193.63,46.69 L194.03,46.70 L194.42,46.71 L194.82,46.72 L195.22,46.73 L195.62,46.74 L196.02,46.75 L196.41,46.76 L196.81,46.77 L197.21,46.78 L197.61,46.80 L198.01,46.81 L198.40,46.82 L198.80,46.83 L199.20,46.84 L199.60,46.85 L200.00,46.86 L200.39,46.87 L200.79,46.88 L201.19,46.89 L201.59,46.90 L201.99,46.91 L202.38,46.92 L202.78,46.93 L203.18,46.94 L203.58,46.95 L203.98,46.96 L204.37,46.97 L204.77,46.98 L205.17,46.99 L205.57,47.00 L205.97,47.01 L206.36,47.03 L206.76,47.04 L207.16,47.05 L207.56,47.06 L207.96,47.07 L208.35,47.08 L208.75,47.09 L209.15,47.10 L209.55,47.11 L209.95,47.12 L210.34,47.13 L210.74,47.14 L211.14,47.15 L211.54,47.16 L211.94,47.17 L212.33,47.19 L212.73,47.20 L213.13,47.21 L213.53,47.22 L213.93,47.23 L214.32,47.24 L214.72,47.25 L215.12,47.26 L215.52,47.27 L215.92,47.29 L216.31,47.30 L216.71,47.31 L217.11,47.32 L217.51,47.33 L217.91,47.34 L218.30,47.36 L218.70,47.37 L219.10,47.38 L219.50,47.39 L219.90,47.41 L220.29,47.42 L220.69,47.43 L221.09,47.44 L221.49,47.46 L221.89,47.47 L222.28,47.48 L222.68,47.49 L223.08,47.51 L223.48,47.52 L223.88,47.53 L224.27,47.55 L224.67,47.56 L225.07,47.57 L225.47,47.59 L225.87,47.60 L226.26,47.62 L226.66,47.63 L227.06,47.65 L227.46,47.66 L227.86,47.67 L228.25,47.69 L228.65,47.70 L229.05,47.72 L229.45,47.73 L229.85,47.75 L230.24,47.77 L230.64,47.78 L231.04,47.80 L231.44,47.81 L231.84,47.83 L232.23,47.85 L232.63,47.86 L233.03,47.88 L233.43,47.90 L233.83,47.92 L234.22,47.93 L234.62,47.95 L235.02,47.97 L235.42,47.99 L235.82,48.01 L236.21,48.02 L236.61,48.04 L237.01,48.06 L237.41,48.08 L237.81,48.10 L238.20,48.12 L238.60,48.14 L239.00,48.16 L239.40,48.18 L239.80,48.20 L240.19,48.22 L240.59,48.25 L240.99,48.27 L241.39,48.29 L241.79,48.31 L242.18,48.33 L242.58,48.35 L242.98,48.38 L243.38,48.40 L243.78,48.42 L244.17,48.44 L244.57,48.47 L244.97,48.49 L245.37,48.51 L245.77,48.54 L246.16,48.56 L246.56,48.58 L246.96,48.61 L247.36,48.63 L247.76,48.66 L248.15,48.68 L248.55,48.71 L248.95,48.73 L249.35,48.76 L249.75,48.78 L250.14,48.81 L250.54,48.83 L250.94,48.86 L251.34,48.88 L251.74,48.91 L252.13,48.94 L252.53,48.96 L252.93,48.99 L253.33,49.01 L253.73,49.04 L254.12,49.07 L254.52,49.10 L254.92,49.12 L255.32,49.15 L255.72,49.18 L256.11,49.20 L256.51,49.23 L256.91,49.26 L257.31,49.29 L257.71,49.32 L258.10,49.34 L258.50,49.37 L258.90,49.40" fill="none" stroke="#ff2a2a" stroke-width="1.2" stroke-linejoin="round"/><polygon points="100.10,44.12 100.50,45.15 101.60,45.21 100.75,45.91 101.03,46.98 100.10,46.38 99.17,46.98 99.45,45.91 98.60,45.21 99.70,45.15" fill="#fff" stroke="#ff2a2a" stroke-width="0.44" stroke-linejoin="miter"/><polygon points="126.40,44.22 126.80,45.25 127.90,45.31 127.05,46.01 127.33,47.08 126.40,46.49 125.47,47.08 125.75,46.01 124.90,45.31 126.00,45.25" fill="#fff" stroke="#ff2a2a" stroke-width="0.44" stroke-linejoin="miter"/><polygon points="152.50,44.48 152.90,45.50 154.00,45.57 153.15,46.27 153.43,47.33 152.50,46.74 151.57,47.33 151.85,46.27 151.00,45.57 152.10,45.50" fill="#fff" stroke="#ff2a2a" stroke-width="0.44" stroke-linejoin="miter"/><polygon points="178.70,44.82 179.10,45.84 180.20,45.91 179.35,46.61 179.63,47.67 178.70,47.08 177.77,47.67 178.05,46.61 177.20,45.91 178.30,45.84" fill="#fff" stroke="#ff2a2a" stroke-width="0.44" stroke-linejoin="miter"/><polygon points="205.20,45.42 205.60,46.44 206.70,46.51 205.85,47.21 206.13,48.27 205.20,47.68 204.27,48.27 204.55,47.21 203.70,46.51 204.80,46.44" fill="#fff" stroke="#ff2a2a" stroke-width="0.44" stroke-linejoin="miter"/><polygon points="231.10,46.22 231.50,47.25 232.60,47.31 231.75,48.01 232.03,49.08 231.10,48.48 230.17,49.08 230.45,48.01 229.60,47.31 230.70,47.25" fill="#fff" stroke="#ff2a2a" stroke-width="0.44" stroke-linejoin="miter"/><path d="M100.10,45.50 L100.45,45.50 L100.79,45.50 L101.14,45.50 L101.49,45.50 L101.84,45.50 L102.18,45.50 L102.53,45.50 L102.88,45.50 L103.22,45.50 L103.57,45.50 L103.92,45.50 L104.27,45.50 L104.61,45.50 L104.96,45.50 L105.31,45.50 L105.65,45.51 L106.00,45.51 L106.35,45.51 L106.70,45.51 L107.04,45.51 L107.39,45.51 L107.74,45.51 L108.08,45.51 L108.43,45.51 L108.78,45.51 L109.13,45.51 L109.47,45.52 L109.82,45.52 L110.17,45.52 L110.51,45.52 L110.86,45.52 L111.21,45.52 L111.55,45.52 L111.90,45.52 L112.25,45.53 L112.60,45.53 L112.94,45.53 L113.29,45.53 L113.64,45.53 L113.98,45.53 L114.33,45.54 L114.68,45.54 L115.03,45.54 L115.37,45.54 L115.72,45.54 L116.07,45.55 L116.41,45.55 L116.76,45.55 L117.11,45.55 L117.46,45.55 L117.80,45.56 L118.15,45.56 L118.50,45.56 L118.84,45.56 L119.19,45.57 L119.54,45.57 L119.89,45.57 L120.23,45.57 L120.58,45.58 L120.93,45.58 L121.27,45.58 L121.62,45.58 L121.97,45.59 L122.32,45.59 L122.66,45.59 L123.01,45.59 L123.36,45.60 L123.70,45.60 L124.05,45.60 L124.40,45.61 L124.75,45.61 L125.09,45.61 L125.44,45.62 L125.79,45.62 L126.13,45.62 L126.48,45.63 L126.83,45.63 L127.18,45.63 L127.52,45.64 L127.87,45.64 L128.22,45.64 L128.56,45.65 L128.91,45.65 L129.26,45.65 L129.61,45.66 L129.95,45.66 L130.30,45.66 L130.65,45.67 L130.99,45.67 L131.34,45.68 L131.69,45.68 L132.03,45.68 L132.38,45.69 L132.73,45.69 L133.08,45.70 L133.42,45.70 L133.77,45.70 L134.12,45.71 L134.46,45.71 L134.81,45.72 L135.16,45.72 L135.51,45.73 L135.85,45.73 L136.20,45.74 L136.55,45.74 L136.89,45.75 L137.24,45.75 L137.59,45.75 L137.94,45.76 L138.28,45.76 L138.63,45.77 L138.98,45.77 L139.32,45.78 L139.67,45.78 L140.02,45.79 L140.37,45.79 L140.71,45.80 L141.06,45.80 L141.41,45.81 L141.75,45.81 L142.10,45.82 L142.45,45.83 L142.80,45.83 L143.14,45.84 L143.49,45.84 L143.84,45.85 L144.18,45.85 L144.53,45.86 L144.88,45.86 L145.23,45.87 L145.57,45.88 L145.92,45.88 L146.27,45.89 L146.61,45.89 L146.96,45.90 L147.31,45.91 L147.66,45.91 L148.00,45.92 L148.35,45.92 L148.70,45.93 L149.04,45.94 L149.39,45.94 L149.74,45.95 L150.08,45.95 L150.43,45.96 L150.78,45.97 L151.13,45.97 L151.47,45.98 L151.82,45.99 L152.17,45.99 L152.51,46.00 L152.86,46.01 L153.21,46.02 L153.56,46.02 L153.90,46.04 L154.25,46.05 L154.60,46.06 L154.94,46.07 L155.29,46.09 L155.64,46.10 L155.99,46.12 L156.33,46.13 L156.68,46.15 L157.03,46.17 L157.37,46.19 L157.72,46.21 L158.07,46.23 L158.42,46.25 L158.76,46.28 L159.11,46.30 L159.46,46.33 L159.80,46.35 L160.15,46.38 L160.50,46.40 L160.85,46.43 L161.19,46.46 L161.54,46.49 L161.89,46.52 L162.23,46.55 L162.58,46.59 L162.93,46.62 L163.28,46.65 L163.62,46.69 L163.97,46.72 L164.32,46.76 L164.66,46.79 L165.01,46.83 L165.36,46.87 L165.71,46.91 L166.05,46.95 L166.40,46.99 L166.75,47.03 L167.09,47.07 L167.44,47.11 L167.79,47.15 L168.14,47.20 L168.48,47.24 L168.83,47.28 L169.18,47.33 L169.52,47.37 L169.87,47.42 L170.22,47.47 L170.56,47.51 L170.91,47.56 L171.26,47.61 L171.61,47.66 L171.95,47.71 L172.30,47.76 L172.65,47.81 L172.99,47.86 L173.34,47.91 L173.69,47.96 L174.04,48.02 L174.38,48.07 L174.73,48.12 L175.08,48.18 L175.42,48.23 L175.77,48.29 L176.12,48.34 L176.47,48.40 L176.81,48.45 L177.16,48.51 L177.51,48.57 L177.85,48.63 L178.20,48.68 L178.55,48.74 L178.90,48.80 L179.24,48.86 L179.59,48.92 L179.94,48.99 L180.28,49.06 L180.63,49.14 L180.98,49.22 L181.33,49.30 L181.67,49.39 L182.02,49.47 L182.37,49.57 L182.71,49.66 L183.06,49.76 L183.41,49.86 L183.76,49.96 L184.10,50.07 L184.45,50.18 L184.80,50.29 L185.14,50.40 L185.49,50.52 L185.84,50.64 L186.19,50.76 L186.53,50.88 L186.88,51.00 L187.23,51.13 L187.57,51.25 L187.92,51.38 L188.27,51.52 L188.62,51.65 L188.96,51.78 L189.31,51.92 L189.66,52.05 L190.00,52.19 L190.35,52.33 L190.70,52.47 L191.04,52.61 L191.39,52.75 L191.74,52.89 L192.09,53.04 L192.43,53.18 L192.78,53.32 L193.13,53.47 L193.47,53.62 L193.82,53.77 L194.17,53.92 L194.52,54.07 L194.86,54.22 L195.21,54.38 L195.56,54.54 L195.90,54.70 L196.25,54.87 L196.60,55.03 L196.95,55.20 L197.29,55.38 L197.64,55.55 L197.99,55.73 L198.33,55.92 L198.68,56.10 L199.03,56.30 L199.38,56.49 L199.72,56.69 L200.07,56.90 L200.42,57.10 L200.76,57.32 L201.11,57.54 L201.46,57.76 L201.81,57.99 L202.15,58.22 L202.50,58.46 L202.85,58.71 L203.19,58.96 L203.54,59.22 L203.89,59.48 L204.24,59.75 L204.58,60.02 L204.93,60.31 L205.28,60.60 L205.62,60.89 L205.97,61.21 L206.32,61.56 L206.67,61.92 L207.01,62.30 L207.36,62.70 L207.71,63.12 L208.05,63.56 L208.40,64.01 L208.75,64.48 L209.09,64.97 L209.44,65.47 L209.79,65.98 L210.14,66.51 L210.48,67.06 L210.83,67.61 L211.18,68.18 L211.52,68.76 L211.87,69.34 L212.22,69.94 L212.57,70.55 L212.91,71.16 L213.26,71.79 L213.61,72.42 L213.95,73.05 L214.30,73.69 L214.65,74.34 L215.00,74.99 L215.34,75.66 L215.69,76.35 L216.04,77.06 L216.38,77.79 L216.73,78.54 L217.08,79.32 L217.43,80.11 L217.77,80.92 L218.12,81.76 L218.47,82.60 L218.81,83.47 L219.16,84.35 L219.51,85.25 L219.86,86.17 L220.20,87.09 L220.55,88.03 L220.90,88.99 L221.24,89.95 L221.59,90.93 L221.94,91.92 L222.29,92.92 L222.63,93.92 L222.98,94.94 L223.33,95.97 L223.67,97.02 L224.02,98.09 L224.37,99.18 L224.72,100.29 L225.06,101.42 L225.41,102.57 L225.76,103.74 L226.10,104.93 L226.45,106.13 L226.80,107.36 L227.15,108.60 L227.49,109.87 L227.84,111.15 L228.19,112.45 L228.53,113.77 L228.88,115.10 L229.23,116.46 L229.57,117.83 L229.92,119.22 L230.27,120.63 L230.62,122.05 L230.96,123.50 L231.31,124.99 L231.66,126.51 L232.00,128.06 L232.35,129.66 L232.70,131.28 L233.05,132.95 L233.39,134.65 L233.74,136.39 L234.09,138.16 L234.43,139.97 L234.78,141.82 L235.13,143.70 L235.48,145.64 L235.82,147.64 L236.17,149.69 L236.52,151.80 L236.86,153.96 L237.21,156.16 L237.56,158.41 L237.91,160.70 L238.25,163.03 L238.60,165.40" fill="none" stroke="#b03cb4" stroke-width="1.2" stroke-linejoin="round"/><circle cx="100.10" cy="45.50" r="1.35" fill="#fff" stroke="#b03cb4" stroke-width="0.47"/><circle cx="126.40" cy="45.62" r="1.35" fill="#fff" stroke="#b03cb4" stroke-width="0.47"/><circle cx="152.50" cy="46.00" r="1.35" fill="#fff" stroke="#b03cb4" stroke-width="0.47"/><circle cx="178.70" cy="48.77" r="1.35" fill="#fff" stroke="#b03cb4" stroke-width="0.47"/><circle cx="205.20" cy="60.53" r="1.35" fill="#fff" stroke="#b03cb4" stroke-width="0.47"/><circle cx="231.10" cy="124.08" r="1.35" fill="#fff" stroke="#b03cb4" stroke-width="0.47"/><path d="M100.10,48.50 L100.36,48.50 L100.62,48.50 L100.88,48.50 L101.14,48.50 L101.40,48.50 L101.67,48.51 L101.93,48.51 L102.19,48.51 L102.45,48.51 L102.71,48.51 L102.97,48.52 L103.23,48.52 L103.49,48.52 L103.75,48.53 L104.01,48.53 L104.27,48.54 L104.54,48.54 L104.80,48.55 L105.06,48.55 L105.32,48.56 L105.58,48.56 L105.84,48.57 L106.10,48.57 L106.36,48.58 L106.62,48.59 L106.88,48.59 L107.14,48.60 L107.41,48.61 L107.67,48.62 L107.93,48.62 L108.19,48.63 L108.45,48.64 L108.71,48.65 L108.97,48.66 L109.23,48.67 L109.49,48.67 L109.75,48.68 L110.01,48.69 L110.28,48.70 L110.54,48.71 L110.80,48.72 L111.06,48.73 L111.32,48.74 L111.58,48.75 L111.84,48.77 L112.10,48.78 L112.36,48.79 L112.62,48.80 L112.88,48.81 L113.15,48.82 L113.41,48.83 L113.67,48.85 L113.93,48.86 L114.19,48.87 L114.45,48.88 L114.71,48.90 L114.97,48.91 L115.23,48.92 L115.49,48.94 L115.75,48.95 L116.02,48.96 L116.28,48.98 L116.54,48.99 L116.80,49.01 L117.06,49.02 L117.32,49.03 L117.58,49.05 L117.84,49.06 L118.10,49.08 L118.36,49.09 L118.62,49.11 L118.88,49.12 L119.15,49.14 L119.41,49.15 L119.67,49.17 L119.93,49.18 L120.19,49.20 L120.45,49.22 L120.71,49.23 L120.97,49.25 L121.23,49.26 L121.49,49.28 L121.75,49.30 L122.02,49.31 L122.28,49.33 L122.54,49.35 L122.80,49.36 L123.06,49.38 L123.32,49.40 L123.58,49.41 L123.84,49.43 L124.10,49.45 L124.36,49.46 L124.62,49.48 L124.89,49.50 L125.15,49.52 L125.41,49.53 L125.67,49.55 L125.93,49.57 L126.19,49.59 L126.45,49.60 L126.71,49.62 L126.97,49.64 L127.23,49.66 L127.49,49.68 L127.76,49.70 L128.02,49.72 L128.28,49.74 L128.54,49.76 L128.80,49.79 L129.06,49.81 L129.32,49.83 L129.58,49.86 L129.84,49.88 L130.10,49.91 L130.36,49.93 L130.63,49.96 L130.89,49.99 L131.15,50.01 L131.41,50.04 L131.67,50.07 L131.93,50.10 L132.19,50.13 L132.45,50.16 L132.71,50.19 L132.97,50.22 L133.23,50.26 L133.50,50.29 L133.76,50.32 L134.02,50.36 L134.28,50.39 L134.54,50.43 L134.80,50.46 L135.06,50.50 L135.32,50.53 L135.58,50.57 L135.84,50.61 L136.10,50.65 L136.37,50.69 L136.63,50.73 L136.89,50.77 L137.15,50.81 L137.41,50.85 L137.67,50.89 L137.93,50.93 L138.19,50.98 L138.45,51.02 L138.71,51.06 L138.97,51.11 L139.24,51.15 L139.50,51.20 L139.76,51.25 L140.02,51.29 L140.28,51.34 L140.54,51.39 L140.80,51.44 L141.06,51.49 L141.32,51.54 L141.58,51.59 L141.84,51.64 L142.11,51.69 L142.37,51.74 L142.63,51.79 L142.89,51.85 L143.15,51.90 L143.41,51.95 L143.67,52.01 L143.93,52.06 L144.19,52.12 L144.45,52.18 L144.71,52.23 L144.98,52.29 L145.24,52.35 L145.50,52.41 L145.76,52.47 L146.02,52.53 L146.28,52.59 L146.54,52.65 L146.80,52.71 L147.06,52.77 L147.32,52.84 L147.58,52.90 L147.85,52.96 L148.11,53.03 L148.37,53.09 L148.63,53.16 L148.89,53.23 L149.15,53.29 L149.41,53.36 L149.67,53.43 L149.93,53.50 L150.19,53.56 L150.45,53.63 L150.72,53.70 L150.98,53.78 L151.24,53.85 L151.50,53.92 L151.76,53.99 L152.02,54.06 L152.28,54.14 L152.54,54.21 L152.80,54.29 L153.06,54.37 L153.32,54.46 L153.58,54.55 L153.85,54.65 L154.11,54.75 L154.37,54.85 L154.63,54.96 L154.89,55.07 L155.15,55.19 L155.41,55.31 L155.67,55.43 L155.93,55.56 L156.19,55.69 L156.45,55.82 L156.72,55.96 L156.98,56.10 L157.24,56.24 L157.50,56.38 L157.76,56.53 L158.02,56.68 L158.28,56.83 L158.54,56.99 L158.80,57.14 L159.06,57.30 L159.32,57.46 L159.59,57.62 L159.85,57.79 L160.11,57.95 L160.37,58.12 L160.63,58.29 L160.89,58.46 L161.15,58.63 L161.41,58.80 L161.67,58.97 L161.93,59.14 L162.19,59.31 L162.46,59.49 L162.72,59.66 L162.98,59.83 L163.24,60.01 L163.50,60.18 L163.76,60.36 L164.02,60.53 L164.28,60.70 L164.54,60.87 L164.80,61.05 L165.06,61.22 L165.33,61.39 L165.59,61.56 L165.85,61.72 L166.11,61.89 L166.37,62.05 L166.63,62.22 L166.89,62.38 L167.15,62.54 L167.41,62.70 L167.67,62.86 L167.93,63.02 L168.20,63.18 L168.46,63.34 L168.72,63.50 L168.98,63.66 L169.24,63.83 L169.50,63.99 L169.76,64.15 L170.02,64.32 L170.28,64.48 L170.54,64.65 L170.80,64.82 L171.07,64.99 L171.33,65.16 L171.59,65.34 L171.85,65.51 L172.11,65.69 L172.37,65.88 L172.63,66.06 L172.89,66.25 L173.15,66.44 L173.41,66.64 L173.67,66.84 L173.94,67.04 L174.20,67.25 L174.46,67.46 L174.72,67.67 L174.98,67.89 L175.24,68.12 L175.50,68.34 L175.76,68.58 L176.02,68.82 L176.28,69.06 L176.54,69.31 L176.81,69.57 L177.07,69.83 L177.33,70.10 L177.59,70.37 L177.85,70.65 L178.11,70.94 L178.37,71.24 L178.63,71.54 L178.89,71.85 L179.15,72.19 L179.41,72.55 L179.68,72.93 L179.94,73.34 L180.20,73.76 L180.46,74.19 L180.72,74.65 L180.98,75.13 L181.24,75.62 L181.50,76.13 L181.76,76.65 L182.02,77.19 L182.28,77.74 L182.55,78.31 L182.81,78.89 L183.07,79.48 L183.33,80.09 L183.59,80.71 L183.85,81.34 L184.11,81.98 L184.37,82.63 L184.63,83.29 L184.89,83.95 L185.15,84.63 L185.42,85.31 L185.68,86.00 L185.94,86.70 L186.20,87.40 L186.46,88.11 L186.72,88.82 L186.98,89.54 L187.24,90.26 L187.50,90.98 L187.76,91.71 L188.02,92.44 L188.28,93.17 L188.55,93.89 L188.81,94.62 L189.07,95.35 L189.33,96.08 L189.59,96.82 L189.85,97.57 L190.11,98.35 L190.37,99.14 L190.63,99.94 L190.89,100.77 L191.15,101.61 L191.42,102.47 L191.68,103.34 L191.94,104.23 L192.20,105.13 L192.46,106.05 L192.72,106.99 L192.98,107.93 L193.24,108.90 L193.50,109.87 L193.76,110.86 L194.02,111.87 L194.29,112.89 L194.55,113.94 L194.81,115.00 L195.07,116.08 L195.33,117.18 L195.59,118.30 L195.85,119.44 L196.11,120.59 L196.37,121.76 L196.63,122.95 L196.89,124.15 L197.16,125.37 L197.42,126.61 L197.68,127.87 L197.94,129.13 L198.20,130.42 L198.46,131.72 L198.72,133.03 L198.98,134.36 L199.24,135.70 L199.50,137.06 L199.76,138.45 L200.03,139.86 L200.29,141.30 L200.55,142.76 L200.81,144.24 L201.07,145.75 L201.33,147.28 L201.59,148.83 L201.85,150.40 L202.11,151.99 L202.37,153.60 L202.63,155.23 L202.90,156.88 L203.16,158.55 L203.42,160.24 L203.68,161.94 L203.94,163.66 L204.20,165.40" fill="none" stroke="#2a2aff" stroke-width="1.2" stroke-linejoin="round"/><circle cx="100.10" cy="48.50" r="1.54" fill="url(#navyg)"/><circle cx="126.40" cy="49.60" r="1.54" fill="url(#navyg)"/><circle cx="152.50" cy="54.20" r="1.54" fill="url(#navyg)"/><circle cx="178.70" cy="71.62" r="1.54" fill="url(#navyg)"/><path d="M100.10,45.50 L100.36,45.50 L100.63,45.50 L100.89,45.50 L101.15,45.50 L101.41,45.50 L101.68,45.50 L101.94,45.50 L102.20,45.50 L102.47,45.51 L102.73,45.51 L102.99,45.51 L103.25,45.51 L103.52,45.51 L103.78,45.51 L104.04,45.51 L104.31,45.52 L104.57,45.52 L104.83,45.52 L105.10,45.52 L105.36,45.52 L105.62,45.53 L105.88,45.53 L106.15,45.53 L106.41,45.53 L106.67,45.54 L106.94,45.54 L107.20,45.54 L107.46,45.55 L107.72,45.55 L107.99,45.55 L108.25,45.56 L108.51,45.56 L108.78,45.56 L109.04,45.57 L109.30,45.57 L109.56,45.58 L109.83,45.58 L110.09,45.58 L110.35,45.59 L110.62,45.59 L110.88,45.60 L111.14,45.60 L111.41,45.61 L111.67,45.61 L111.93,45.62 L112.19,45.62 L112.46,45.63 L112.72,45.63 L112.98,45.64 L113.25,45.64 L113.51,45.65 L113.77,45.65 L114.03,45.66 L114.30,45.66 L114.56,45.67 L114.82,45.68 L115.09,45.68 L115.35,45.69 L115.61,45.69 L115.87,45.70 L116.14,45.71 L116.40,45.71 L116.66,45.72 L116.93,45.72 L117.19,45.73 L117.45,45.74 L117.71,45.74 L117.98,45.75 L118.24,45.76 L118.50,45.76 L118.77,45.77 L119.03,45.78 L119.29,45.79 L119.56,45.79 L119.82,45.80 L120.08,45.81 L120.34,45.81 L120.61,45.82 L120.87,45.83 L121.13,45.84 L121.40,45.84 L121.66,45.85 L121.92,45.86 L122.18,45.87 L122.45,45.88 L122.71,45.88 L122.97,45.89 L123.24,45.90 L123.50,45.91 L123.76,45.92 L124.02,45.92 L124.29,45.93 L124.55,45.94 L124.81,45.95 L125.08,45.96 L125.34,45.97 L125.60,45.97 L125.86,45.98 L126.13,45.99 L126.39,46.00 L126.65,46.01 L126.92,46.02 L127.18,46.03 L127.44,46.04 L127.71,46.05 L127.97,46.06 L128.23,46.07 L128.49,46.08 L128.76,46.10 L129.02,46.11 L129.28,46.12 L129.55,46.14 L129.81,46.15 L130.07,46.17 L130.33,46.18 L130.60,46.20 L130.86,46.21 L131.12,46.23 L131.39,46.25 L131.65,46.27 L131.91,46.28 L132.17,46.30 L132.44,46.32 L132.70,46.34 L132.96,46.36 L133.23,46.38 L133.49,46.40 L133.75,46.43 L134.02,46.45 L134.28,46.47 L134.54,46.49 L134.80,46.52 L135.07,46.54 L135.33,46.57 L135.59,46.59 L135.86,46.62 L136.12,46.64 L136.38,46.67 L136.64,46.70 L136.91,46.72 L137.17,46.75 L137.43,46.78 L137.70,46.81 L137.96,46.84 L138.22,46.87 L138.48,46.90 L138.75,46.93 L139.01,46.96 L139.27,46.99 L139.54,47.02 L139.80,47.05 L140.06,47.09 L140.32,47.12 L140.59,47.15 L140.85,47.19 L141.11,47.22 L141.38,47.26 L141.64,47.30 L141.90,47.33 L142.17,47.37 L142.43,47.41 L142.69,47.44 L142.95,47.48 L143.22,47.52 L143.48,47.56 L143.74,47.60 L144.01,47.64 L144.27,47.68 L144.53,47.72 L144.79,47.76 L145.06,47.81 L145.32,47.85 L145.58,47.89 L145.85,47.94 L146.11,47.98 L146.37,48.02 L146.63,48.07 L146.90,48.11 L147.16,48.16 L147.42,48.21 L147.69,48.25 L147.95,48.30 L148.21,48.35 L148.47,48.40 L148.74,48.45 L149.00,48.50 L149.26,48.55 L149.53,48.60 L149.79,48.65 L150.05,48.70 L150.32,48.75 L150.58,48.80 L150.84,48.86 L151.10,48.91 L151.37,48.96 L151.63,49.02 L151.89,49.07 L152.16,49.13 L152.42,49.18 L152.68,49.24 L152.94,49.30 L153.21,49.37 L153.47,49.44 L153.73,49.52 L154.00,49.60 L154.26,49.69 L154.52,49.78 L154.78,49.88 L155.05,49.98 L155.31,50.09 L155.57,50.19 L155.84,50.31 L156.10,50.42 L156.36,50.54 L156.63,50.67 L156.89,50.80 L157.15,50.93 L157.41,51.06 L157.68,51.20 L157.94,51.34 L158.20,51.48 L158.47,51.62 L158.73,51.77 L158.99,51.92 L159.25,52.07 L159.52,52.23 L159.78,52.38 L160.04,52.54 L160.31,52.70 L160.57,52.86 L160.83,53.02 L161.09,53.19 L161.36,53.35 L161.62,53.52 L161.88,53.69 L162.15,53.85 L162.41,54.02 L162.67,54.19 L162.93,54.36 L163.20,54.53 L163.46,54.70 L163.72,54.87 L163.99,55.04 L164.25,55.20 L164.51,55.37 L164.78,55.54 L165.04,55.71 L165.30,55.87 L165.56,56.04 L165.83,56.20 L166.09,56.37 L166.35,56.53 L166.62,56.70 L166.88,56.86 L167.14,57.02 L167.40,57.18 L167.67,57.35 L167.93,57.51 L168.19,57.68 L168.46,57.84 L168.72,58.01 L168.98,58.17 L169.24,58.34 L169.51,58.51 L169.77,58.68 L170.03,58.85 L170.30,59.03 L170.56,59.21 L170.82,59.38 L171.08,59.56 L171.35,59.75 L171.61,59.93 L171.87,60.12 L172.14,60.31 L172.40,60.50 L172.66,60.70 L172.93,60.90 L173.19,61.11 L173.45,61.31 L173.71,61.52 L173.98,61.74 L174.24,61.96 L174.50,62.18 L174.77,62.41 L175.03,62.64 L175.29,62.87 L175.55,63.11 L175.82,63.36 L176.08,63.61 L176.34,63.87 L176.61,64.13 L176.87,64.40 L177.13,64.67 L177.39,64.95 L177.66,65.23 L177.92,65.52 L178.18,65.82 L178.45,66.12 L178.71,66.43 L178.97,66.76 L179.24,67.10 L179.50,67.47 L179.76,67.85 L180.02,68.24 L180.29,68.66 L180.55,69.09 L180.81,69.53 L181.08,70.00 L181.34,70.47 L181.60,70.96 L181.86,71.47 L182.13,71.99 L182.39,72.52 L182.65,73.07 L182.92,73.62 L183.18,74.20 L183.44,74.78 L183.70,75.37 L183.97,75.98 L184.23,76.59 L184.49,77.22 L184.76,77.85 L185.02,78.50 L185.28,79.15 L185.54,79.82 L185.81,80.49 L186.07,81.17 L186.33,81.86 L186.60,82.55 L186.86,83.25 L187.12,83.96 L187.39,84.67 L187.65,85.39 L187.91,86.11 L188.17,86.84 L188.44,87.57 L188.70,88.31 L188.96,89.05 L189.23,89.80 L189.49,90.54 L189.75,91.29 L190.01,92.04 L190.28,92.81 L190.54,93.60 L190.80,94.43 L191.07,95.27 L191.33,96.15 L191.59,97.04 L191.85,97.95 L192.12,98.89 L192.38,99.84 L192.64,100.81 L192.91,101.79 L193.17,102.79 L193.43,103.80 L193.69,104.82 L193.96,105.85 L194.22,106.89 L194.48,107.94 L194.75,108.99 L195.01,110.04 L195.27,111.09 L195.54,112.16 L195.80,113.22 L196.06,114.30 L196.32,115.39 L196.59,116.48 L196.85,117.59 L197.11,118.71 L197.38,119.85 L197.64,121.00 L197.90,122.17 L198.16,123.36 L198.43,124.57 L198.69,125.81 L198.95,127.06 L199.22,128.34 L199.48,129.65 L199.74,130.98 L200.00,132.35 L200.27,133.74 L200.53,135.17 L200.79,136.64 L201.06,138.15 L201.32,139.71 L201.58,141.31 L201.85,142.96 L202.11,144.64 L202.37,146.37 L202.63,148.13 L202.90,149.92 L203.16,151.76 L203.42,153.62 L203.69,155.52 L203.95,157.44 L204.21,159.39 L204.47,161.37 L204.74,163.37 L205.00,165.40" fill="none" stroke="#ff18ff" stroke-width="1.2" stroke-linejoin="round"/><rect x="98.77" y="44.17" width="2.66" height="2.66" fill="#ff18ff"/><rect x="125.07" y="44.67" width="2.66" height="2.66" fill="#ff18ff"/><rect x="151.17" y="47.87" width="2.66" height="2.66" fill="#ff18ff"/><rect x="177.37" y="65.09" width="2.66" height="2.66" fill="#ff18ff"/><path d="M100.10,48.10 L100.36,48.10 L100.62,48.10 L100.88,48.10 L101.15,48.10 L101.41,48.10 L101.67,48.10 L101.93,48.11 L102.19,48.11 L102.45,48.11 L102.71,48.11 L102.98,48.11 L103.24,48.12 L103.50,48.12 L103.76,48.12 L104.02,48.13 L104.28,48.13 L104.54,48.13 L104.81,48.14 L105.07,48.14 L105.33,48.15 L105.59,48.15 L105.85,48.15 L106.11,48.16 L106.37,48.16 L106.64,48.17 L106.90,48.18 L107.16,48.18 L107.42,48.19 L107.68,48.19 L107.94,48.20 L108.20,48.21 L108.46,48.21 L108.73,48.22 L108.99,48.23 L109.25,48.23 L109.51,48.24 L109.77,48.25 L110.03,48.26 L110.29,48.26 L110.56,48.27 L110.82,48.28 L111.08,48.29 L111.34,48.30 L111.60,48.31 L111.86,48.31 L112.12,48.32 L112.39,48.33 L112.65,48.34 L112.91,48.35 L113.17,48.36 L113.43,48.37 L113.69,48.38 L113.95,48.39 L114.22,48.40 L114.48,48.41 L114.74,48.42 L115.00,48.43 L115.26,48.44 L115.52,48.45 L115.78,48.47 L116.05,48.48 L116.31,48.49 L116.57,48.50 L116.83,48.51 L117.09,48.52 L117.35,48.53 L117.61,48.55 L117.88,48.56 L118.14,48.57 L118.40,48.58 L118.66,48.59 L118.92,48.61 L119.18,48.62 L119.44,48.63 L119.71,48.64 L119.97,48.66 L120.23,48.67 L120.49,48.68 L120.75,48.70 L121.01,48.71 L121.27,48.72 L121.54,48.74 L121.80,48.75 L122.06,48.76 L122.32,48.78 L122.58,48.79 L122.84,48.80 L123.10,48.82 L123.36,48.83 L123.63,48.85 L123.89,48.86 L124.15,48.88 L124.41,48.89 L124.67,48.90 L124.93,48.92 L125.19,48.93 L125.46,48.95 L125.72,48.96 L125.98,48.98 L126.24,48.99 L126.50,49.01 L126.76,49.02 L127.02,49.04 L127.29,49.05 L127.55,49.07 L127.81,49.09 L128.07,49.11 L128.33,49.12 L128.59,49.14 L128.85,49.16 L129.12,49.18 L129.38,49.20 L129.64,49.23 L129.90,49.25 L130.16,49.27 L130.42,49.29 L130.68,49.32 L130.95,49.34 L131.21,49.37 L131.47,49.39 L131.73,49.42 L131.99,49.44 L132.25,49.47 L132.51,49.50 L132.78,49.53 L133.04,49.56 L133.30,49.59 L133.56,49.61 L133.82,49.65 L134.08,49.68 L134.34,49.71 L134.61,49.74 L134.87,49.77 L135.13,49.81 L135.39,49.84 L135.65,49.87 L135.91,49.91 L136.17,49.94 L136.44,49.98 L136.70,50.02 L136.96,50.05 L137.22,50.09 L137.48,50.13 L137.74,50.17 L138.00,50.20 L138.26,50.24 L138.53,50.28 L138.79,50.33 L139.05,50.37 L139.31,50.41 L139.57,50.45 L139.83,50.49 L140.09,50.54 L140.36,50.58 L140.62,50.63 L140.88,50.67 L141.14,50.72 L141.40,50.76 L141.66,50.81 L141.92,50.86 L142.19,50.90 L142.45,50.95 L142.71,51.00 L142.97,51.05 L143.23,51.10 L143.49,51.15 L143.75,51.20 L144.02,51.25 L144.28,51.30 L144.54,51.36 L144.80,51.41 L145.06,51.46 L145.32,51.52 L145.58,51.57 L145.85,51.63 L146.11,51.68 L146.37,51.74 L146.63,51.79 L146.89,51.85 L147.15,51.91 L147.41,51.97 L147.68,52.02 L147.94,52.08 L148.20,52.14 L148.46,52.20 L148.72,52.26 L148.98,52.33 L149.24,52.39 L149.51,52.45 L149.77,52.51 L150.03,52.58 L150.29,52.64 L150.55,52.70 L150.81,52.77 L151.07,52.83 L151.34,52.90 L151.60,52.97 L151.86,53.03 L152.12,53.10 L152.38,53.17 L152.64,53.24 L152.90,53.31 L153.16,53.39 L153.43,53.47 L153.69,53.55 L153.95,53.64 L154.21,53.74 L154.47,53.83 L154.73,53.93 L154.99,54.04 L155.26,54.14 L155.52,54.25 L155.78,54.37 L156.04,54.48 L156.30,54.60 L156.56,54.73 L156.82,54.85 L157.09,54.98 L157.35,55.11 L157.61,55.25 L157.87,55.38 L158.13,55.52 L158.39,55.66 L158.65,55.80 L158.92,55.95 L159.18,56.10 L159.44,56.25 L159.70,56.40 L159.96,56.55 L160.22,56.70 L160.48,56.86 L160.75,57.01 L161.01,57.17 L161.27,57.33 L161.53,57.49 L161.79,57.65 L162.05,57.82 L162.31,57.98 L162.58,58.14 L162.84,58.31 L163.10,58.47 L163.36,58.64 L163.62,58.81 L163.88,58.97 L164.14,59.14 L164.41,59.30 L164.67,59.47 L164.93,59.64 L165.19,59.80 L165.45,59.97 L165.71,60.13 L165.97,60.30 L166.24,60.46 L166.50,60.63 L166.76,60.79 L167.02,60.96 L167.28,61.12 L167.54,61.28 L167.80,61.45 L168.06,61.62 L168.33,61.78 L168.59,61.95 L168.85,62.12 L169.11,62.29 L169.37,62.46 L169.63,62.63 L169.89,62.81 L170.16,62.98 L170.42,63.16 L170.68,63.34 L170.94,63.52 L171.20,63.71 L171.46,63.89 L171.72,64.08 L171.99,64.28 L172.25,64.47 L172.51,64.67 L172.77,64.87 L173.03,65.08 L173.29,65.28 L173.55,65.50 L173.82,65.71 L174.08,65.93 L174.34,66.16 L174.60,66.38 L174.86,66.62 L175.12,66.85 L175.38,67.09 L175.65,67.34 L175.91,67.59 L176.17,67.85 L176.43,68.11 L176.69,68.38 L176.95,68.65 L177.21,68.93 L177.48,69.21 L177.74,69.50 L178.00,69.80 L178.26,70.10 L178.52,70.41 L178.78,70.72 L179.04,71.06 L179.31,71.42 L179.57,71.79 L179.83,72.18 L180.09,72.59 L180.35,73.02 L180.61,73.47 L180.87,73.93 L181.14,74.40 L181.40,74.89 L181.66,75.40 L181.92,75.92 L182.18,76.45 L182.44,77.00 L182.70,77.56 L182.96,78.13 L183.23,78.71 L183.49,79.31 L183.75,79.91 L184.01,80.53 L184.27,81.16 L184.53,81.79 L184.79,82.44 L185.06,83.09 L185.32,83.75 L185.58,84.42 L185.84,85.09 L186.10,85.77 L186.36,86.46 L186.62,87.15 L186.89,87.85 L187.15,88.55 L187.41,89.26 L187.67,89.97 L187.93,90.68 L188.19,91.40 L188.45,92.12 L188.72,92.84 L188.98,93.56 L189.24,94.28 L189.50,95.00 L189.76,95.73 L190.02,96.48 L190.28,97.25 L190.55,98.04 L190.81,98.85 L191.07,99.67 L191.33,100.51 L191.59,101.37 L191.85,102.25 L192.11,103.14 L192.38,104.04 L192.64,104.96 L192.90,105.90 L193.16,106.85 L193.42,107.82 L193.68,108.79 L193.94,109.79 L194.21,110.79 L194.47,111.81 L194.73,112.86 L194.99,113.91 L195.25,114.99 L195.51,116.09 L195.77,117.20 L196.04,118.33 L196.30,119.48 L196.56,120.64 L196.82,121.83 L197.08,123.03 L197.34,124.25 L197.60,125.49 L197.86,126.74 L198.13,128.02 L198.39,129.31 L198.65,130.62 L198.91,131.94 L199.17,133.29 L199.43,134.65 L199.69,136.03 L199.96,137.45 L200.22,138.89 L200.48,140.36 L200.74,141.86 L201.00,143.39 L201.26,144.94 L201.52,146.52 L201.79,148.13 L202.05,149.75 L202.31,151.41 L202.57,153.08 L202.83,154.78 L203.09,156.50 L203.35,158.24 L203.62,160.00 L203.88,161.78 L204.14,163.58 L204.40,165.40" fill="none" stroke="#424242" stroke-width="1.2" stroke-linejoin="round"/><polygon points="100.10,46.03 102.17,48.10 100.10,50.17 98.03,48.10" fill="#fff" stroke="#424242" stroke-width="0.42"/><polygon points="126.40,46.93 128.47,49.00 126.40,51.07 124.33,49.00" fill="#fff" stroke="#424242" stroke-width="0.42"/><polygon points="152.50,51.13 154.57,53.20 152.50,55.27 150.43,53.20" fill="#fff" stroke="#424242" stroke-width="0.42"/><polygon points="178.70,68.55 180.77,70.62 178.70,72.69 176.63,70.62" fill="#fff" stroke="#424242" stroke-width="0.42"/><path d="M100.10,47.90 L100.36,47.90 L100.62,47.90 L100.89,47.90 L101.15,47.90 L101.41,47.90 L101.67,47.90 L101.94,47.90 L102.20,47.91 L102.46,47.91 L102.72,47.91 L102.99,47.91 L103.25,47.91 L103.51,47.91 L103.77,47.92 L104.04,47.92 L104.30,47.92 L104.56,47.93 L104.82,47.93 L105.09,47.93 L105.35,47.93 L105.61,47.94 L105.87,47.94 L106.14,47.95 L106.40,47.95 L106.66,47.95 L106.92,47.96 L107.18,47.96 L107.45,47.97 L107.71,47.97 L107.97,47.98 L108.23,47.98 L108.50,47.99 L108.76,47.99 L109.02,48.00 L109.28,48.00 L109.55,48.01 L109.81,48.01 L110.07,48.02 L110.33,48.03 L110.60,48.03 L110.86,48.04 L111.12,48.04 L111.38,48.05 L111.65,48.06 L111.91,48.07 L112.17,48.07 L112.43,48.08 L112.70,48.09 L112.96,48.09 L113.22,48.10 L113.48,48.11 L113.75,48.12 L114.01,48.12 L114.27,48.13 L114.53,48.14 L114.79,48.15 L115.06,48.16 L115.32,48.16 L115.58,48.17 L115.84,48.18 L116.11,48.19 L116.37,48.20 L116.63,48.21 L116.89,48.22 L117.16,48.23 L117.42,48.24 L117.68,48.24 L117.94,48.25 L118.21,48.26 L118.47,48.27 L118.73,48.28 L118.99,48.29 L119.26,48.30 L119.52,48.31 L119.78,48.32 L120.04,48.33 L120.31,48.34 L120.57,48.35 L120.83,48.36 L121.09,48.37 L121.35,48.38 L121.62,48.39 L121.88,48.41 L122.14,48.42 L122.40,48.43 L122.67,48.44 L122.93,48.45 L123.19,48.46 L123.45,48.47 L123.72,48.48 L123.98,48.49 L124.24,48.50 L124.50,48.52 L124.77,48.53 L125.03,48.54 L125.29,48.55 L125.55,48.56 L125.82,48.57 L126.08,48.59 L126.34,48.60 L126.60,48.61 L126.87,48.62 L127.13,48.63 L127.39,48.65 L127.65,48.66 L127.92,48.68 L128.18,48.69 L128.44,48.71 L128.70,48.73 L128.96,48.74 L129.23,48.76 L129.49,48.78 L129.75,48.80 L130.01,48.82 L130.28,48.83 L130.54,48.86 L130.80,48.88 L131.06,48.90 L131.33,48.92 L131.59,48.94 L131.85,48.96 L132.11,48.99 L132.38,49.01 L132.64,49.04 L132.90,49.06 L133.16,49.09 L133.43,49.11 L133.69,49.14 L133.95,49.17 L134.21,49.20 L134.48,49.22 L134.74,49.25 L135.00,49.28 L135.26,49.31 L135.52,49.34 L135.79,49.37 L136.05,49.40 L136.31,49.44 L136.57,49.47 L136.84,49.50 L137.10,49.54 L137.36,49.57 L137.62,49.60 L137.89,49.64 L138.15,49.68 L138.41,49.71 L138.67,49.75 L138.94,49.79 L139.20,49.82 L139.46,49.86 L139.72,49.90 L139.99,49.94 L140.25,49.98 L140.51,50.02 L140.77,50.06 L141.04,50.10 L141.30,50.14 L141.56,50.19 L141.82,50.23 L142.08,50.27 L142.35,50.32 L142.61,50.36 L142.87,50.41 L143.13,50.45 L143.40,50.50 L143.66,50.54 L143.92,50.59 L144.18,50.64 L144.45,50.69 L144.71,50.74 L144.97,50.78 L145.23,50.83 L145.50,50.88 L145.76,50.93 L146.02,50.98 L146.28,51.04 L146.55,51.09 L146.81,51.14 L147.07,51.19 L147.33,51.25 L147.60,51.30 L147.86,51.36 L148.12,51.41 L148.38,51.47 L148.65,51.52 L148.91,51.58 L149.17,51.64 L149.43,51.69 L149.69,51.75 L149.96,51.81 L150.22,51.87 L150.48,51.93 L150.74,51.99 L151.01,52.05 L151.27,52.11 L151.53,52.17 L151.79,52.23 L152.06,52.29 L152.32,52.36 L152.58,52.42 L152.84,52.49 L153.11,52.56 L153.37,52.63 L153.63,52.71 L153.89,52.80 L154.16,52.88 L154.42,52.97 L154.68,53.07 L154.94,53.17 L155.21,53.27 L155.47,53.38 L155.73,53.49 L155.99,53.60 L156.25,53.71 L156.52,53.83 L156.78,53.95 L157.04,54.08 L157.30,54.20 L157.57,54.33 L157.83,54.46 L158.09,54.60 L158.35,54.74 L158.62,54.88 L158.88,55.02 L159.14,55.16 L159.40,55.30 L159.67,55.45 L159.93,55.60 L160.19,55.75 L160.45,55.90 L160.72,56.06 L160.98,56.21 L161.24,56.37 L161.50,56.53 L161.77,56.68 L162.03,56.84 L162.29,57.00 L162.55,57.17 L162.82,57.33 L163.08,57.49 L163.34,57.65 L163.60,57.82 L163.86,57.98 L164.13,58.14 L164.39,58.31 L164.65,58.47 L164.91,58.64 L165.18,58.80 L165.44,58.96 L165.70,59.13 L165.96,59.29 L166.23,59.45 L166.49,59.61 L166.75,59.78 L167.01,59.94 L167.28,60.10 L167.54,60.27 L167.80,60.43 L168.06,60.60 L168.33,60.77 L168.59,60.93 L168.85,61.10 L169.11,61.27 L169.38,61.45 L169.64,61.62 L169.90,61.79 L170.16,61.97 L170.42,62.15 L170.69,62.33 L170.95,62.52 L171.21,62.70 L171.47,62.89 L171.74,63.08 L172.00,63.28 L172.26,63.48 L172.52,63.68 L172.79,63.88 L173.05,64.09 L173.31,64.30 L173.57,64.51 L173.84,64.73 L174.10,64.95 L174.36,65.18 L174.62,65.41 L174.89,65.64 L175.15,65.88 L175.41,66.13 L175.67,66.37 L175.94,66.63 L176.20,66.89 L176.46,67.15 L176.72,67.42 L176.98,67.69 L177.25,67.97 L177.51,68.25 L177.77,68.54 L178.03,68.84 L178.30,69.14 L178.56,69.45 L178.82,69.77 L179.08,70.11 L179.35,70.46 L179.61,70.83 L179.87,71.22 L180.13,71.62 L180.40,72.03 L180.66,72.47 L180.92,72.91 L181.18,73.38 L181.45,73.85 L181.71,74.34 L181.97,74.85 L182.23,75.36 L182.50,75.89 L182.76,76.43 L183.02,76.98 L183.28,77.55 L183.55,78.13 L183.81,78.71 L184.07,79.31 L184.33,79.92 L184.59,80.54 L184.86,81.16 L185.12,81.80 L185.38,82.44 L185.64,83.10 L185.91,83.76 L186.17,84.43 L186.43,85.10 L186.69,85.79 L186.96,86.48 L187.22,87.17 L187.48,87.88 L187.74,88.58 L188.01,89.30 L188.27,90.01 L188.53,90.74 L188.79,91.46 L189.06,92.19 L189.32,92.93 L189.58,93.66 L189.84,94.41 L190.11,95.18 L190.37,95.98 L190.63,96.82 L190.89,97.67 L191.15,98.56 L191.42,99.46 L191.68,100.39 L191.94,101.34 L192.20,102.30 L192.47,103.28 L192.73,104.27 L192.99,105.28 L193.25,106.29 L193.52,107.31 L193.78,108.34 L194.04,109.37 L194.30,110.41 L194.57,111.45 L194.83,112.50 L195.09,113.57 L195.35,114.64 L195.62,115.72 L195.88,116.82 L196.14,117.92 L196.40,119.04 L196.67,120.18 L196.93,121.33 L197.19,122.49 L197.45,123.67 L197.72,124.86 L197.98,126.08 L198.24,127.30 L198.50,128.55 L198.76,129.82 L199.03,131.10 L199.29,132.40 L199.55,133.73 L199.81,135.07 L200.08,136.44 L200.34,137.84 L200.60,139.27 L200.86,140.73 L201.13,142.21 L201.39,143.72 L201.65,145.25 L201.91,146.81 L202.18,148.39 L202.44,150.00 L202.70,151.63 L202.96,153.28 L203.23,154.95 L203.49,156.65 L203.75,158.36 L204.01,160.09 L204.28,161.84 L204.54,163.61 L204.80,165.40" fill="none" stroke="#0c8a1c" stroke-width="1.2" stroke-linejoin="round"/><polygon points="100.10,46.19 101.89,49.15 98.31,49.15 100.10,46.19" fill="#fff" stroke="#0c8a1c" stroke-width="0.42"/><polygon points="100.10,46.19 101.11,47.86 99.09,47.86" fill="#0c8a1c"/><polygon points="126.40,46.89 128.19,49.85 124.61,49.85 126.40,46.89" fill="#fff" stroke="#0c8a1c" stroke-width="0.42"/><polygon points="126.40,46.89 127.41,48.56 125.39,48.56" fill="#0c8a1c"/><polygon points="152.50,50.69 154.29,53.65 150.71,53.65 152.50,50.69" fill="#fff" stroke="#0c8a1c" stroke-width="0.42"/><polygon points="152.50,50.69 153.51,52.36 151.49,52.36" fill="#0c8a1c"/><polygon points="178.70,67.91 180.49,70.87 176.91,70.87 178.70,67.91" fill="#fff" stroke="#0c8a1c" stroke-width="0.42"/><polygon points="178.70,67.91 179.71,69.58 177.69,69.58" fill="#0c8a1c"/><path d="M100.10,45.30 L100.39,45.30 L100.69,45.30 L100.98,45.30 L101.28,45.30 L101.57,45.30 L101.87,45.30 L102.16,45.30 L102.46,45.31 L102.75,45.31 L103.04,45.31 L103.34,45.31 L103.63,45.31 L103.93,45.31 L104.22,45.32 L104.52,45.32 L104.81,45.32 L105.11,45.32 L105.40,45.33 L105.70,45.33 L105.99,45.33 L106.28,45.33 L106.58,45.34 L106.87,45.34 L107.17,45.34 L107.46,45.35 L107.76,45.35 L108.05,45.36 L108.35,45.36 L108.64,45.36 L108.93,45.37 L109.23,45.37 L109.52,45.38 L109.82,45.38 L110.11,45.39 L110.41,45.39 L110.70,45.40 L111.00,45.40 L111.29,45.41 L111.58,45.41 L111.88,45.42 L112.17,45.42 L112.47,45.43 L112.76,45.43 L113.06,45.44 L113.35,45.45 L113.65,45.45 L113.94,45.46 L114.24,45.47 L114.53,45.47 L114.82,45.48 L115.12,45.48 L115.41,45.49 L115.71,45.50 L116.00,45.51 L116.30,45.51 L116.59,45.52 L116.89,45.53 L117.18,45.53 L117.47,45.54 L117.77,45.55 L118.06,45.56 L118.36,45.56 L118.65,45.57 L118.95,45.58 L119.24,45.59 L119.54,45.60 L119.83,45.60 L120.13,45.61 L120.42,45.62 L120.71,45.63 L121.01,45.64 L121.30,45.64 L121.60,45.65 L121.89,45.66 L122.19,45.67 L122.48,45.68 L122.78,45.69 L123.07,45.70 L123.36,45.71 L123.66,45.71 L123.95,45.72 L124.25,45.73 L124.54,45.74 L124.84,45.75 L125.13,45.76 L125.43,45.77 L125.72,45.78 L126.01,45.79 L126.31,45.80 L126.60,45.81 L126.90,45.82 L127.19,45.83 L127.49,45.84 L127.78,45.85 L128.08,45.86 L128.37,45.88 L128.67,45.89 L128.96,45.90 L129.25,45.92 L129.55,45.93 L129.84,45.95 L130.14,45.96 L130.43,45.98 L130.73,46.00 L131.02,46.01 L131.32,46.03 L131.61,46.05 L131.90,46.07 L132.20,46.09 L132.49,46.11 L132.79,46.13 L133.08,46.15 L133.38,46.17 L133.67,46.19 L133.97,46.22 L134.26,46.24 L134.55,46.26 L134.85,46.29 L135.14,46.31 L135.44,46.34 L135.73,46.36 L136.03,46.39 L136.32,46.41 L136.62,46.44 L136.91,46.47 L137.21,46.49 L137.50,46.52 L137.79,46.55 L138.09,46.58 L138.38,46.61 L138.68,46.64 L138.97,46.67 L139.27,46.70 L139.56,46.73 L139.86,46.76 L140.15,46.80 L140.44,46.83 L140.74,46.86 L141.03,46.89 L141.33,46.93 L141.62,46.96 L141.92,47.00 L142.21,47.03 L142.51,47.07 L142.80,47.10 L143.09,47.14 L143.39,47.18 L143.68,47.21 L143.98,47.25 L144.27,47.29 L144.57,47.33 L144.86,47.37 L145.16,47.41 L145.45,47.44 L145.75,47.48 L146.04,47.52 L146.33,47.57 L146.63,47.61 L146.92,47.65 L147.22,47.69 L147.51,47.73 L147.81,47.77 L148.10,47.82 L148.40,47.86 L148.69,47.90 L148.98,47.95 L149.28,47.99 L149.57,48.04 L149.87,48.08 L150.16,48.13 L150.46,48.17 L150.75,48.22 L151.05,48.27 L151.34,48.31 L151.64,48.36 L151.93,48.41 L152.22,48.45 L152.52,48.50 L152.81,48.55 L153.11,48.61 L153.40,48.66 L153.70,48.72 L153.99,48.78 L154.29,48.84 L154.58,48.91 L154.87,48.97 L155.17,49.04 L155.46,49.11 L155.76,49.19 L156.05,49.26 L156.35,49.34 L156.64,49.42 L156.94,49.51 L157.23,49.59 L157.52,49.68 L157.82,49.76 L158.11,49.85 L158.41,49.94 L158.70,50.04 L159.00,50.13 L159.29,50.23 L159.59,50.32 L159.88,50.42 L160.18,50.52 L160.47,50.62 L160.76,50.73 L161.06,50.83 L161.35,50.94 L161.65,51.04 L161.94,51.15 L162.24,51.26 L162.53,51.37 L162.83,51.47 L163.12,51.59 L163.41,51.70 L163.71,51.81 L164.00,51.92 L164.30,52.03 L164.59,52.15 L164.89,52.26 L165.18,52.38 L165.48,52.49 L165.77,52.61 L166.06,52.72 L166.36,52.84 L166.65,52.96 L166.95,53.08 L167.24,53.20 L167.54,53.32 L167.83,53.45 L168.13,53.57 L168.42,53.70 L168.72,53.83 L169.01,53.96 L169.30,54.09 L169.60,54.23 L169.89,54.36 L170.19,54.50 L170.48,54.64 L170.78,54.78 L171.07,54.93 L171.37,55.07 L171.66,55.22 L171.95,55.37 L172.25,55.52 L172.54,55.68 L172.84,55.84 L173.13,56.00 L173.43,56.16 L173.72,56.33 L174.02,56.49 L174.31,56.66 L174.61,56.84 L174.90,57.01 L175.19,57.19 L175.49,57.38 L175.78,57.56 L176.08,57.75 L176.37,57.94 L176.67,58.14 L176.96,58.34 L177.26,58.54 L177.55,58.74 L177.84,58.95 L178.14,59.16 L178.43,59.38 L178.73,59.60 L179.02,59.82 L179.32,60.06 L179.61,60.31 L179.91,60.56 L180.20,60.82 L180.49,61.10 L180.79,61.38 L181.08,61.66 L181.38,61.96 L181.67,62.26 L181.97,62.57 L182.26,62.89 L182.56,63.21 L182.85,63.54 L183.15,63.88 L183.44,64.22 L183.73,64.57 L184.03,64.93 L184.32,65.29 L184.62,65.65 L184.91,66.03 L185.21,66.40 L185.50,66.78 L185.80,67.17 L186.09,67.56 L186.38,67.95 L186.68,68.35 L186.97,68.75 L187.27,69.16 L187.56,69.57 L187.86,69.98 L188.15,70.40 L188.45,70.82 L188.74,71.24 L189.03,71.66 L189.33,72.08 L189.62,72.51 L189.92,72.94 L190.21,73.37 L190.51,73.80 L190.80,74.23 L191.10,74.67 L191.39,75.10 L191.69,75.54 L191.98,75.97 L192.27,76.41 L192.57,76.85 L192.86,77.30 L193.16,77.75 L193.45,78.21 L193.75,78.67 L194.04,79.14 L194.34,79.61 L194.63,80.09 L194.92,80.57 L195.22,81.06 L195.51,81.56 L195.81,82.06 L196.10,82.57 L196.40,83.08 L196.69,83.59 L196.99,84.12 L197.28,84.65 L197.57,85.18 L197.87,85.72 L198.16,86.27 L198.46,86.82 L198.75,87.38 L199.05,87.94 L199.34,88.51 L199.64,89.08 L199.93,89.67 L200.23,90.25 L200.52,90.85 L200.81,91.45 L201.11,92.05 L201.40,92.66 L201.70,93.28 L201.99,93.91 L202.29,94.54 L202.58,95.18 L202.88,95.82 L203.17,96.48 L203.46,97.15 L203.76,97.85 L204.05,98.58 L204.35,99.35 L204.64,100.15 L204.94,101.01 L205.23,101.91 L205.53,102.87 L205.82,103.89 L206.12,104.95 L206.41,106.07 L206.70,107.23 L207.00,108.43 L207.29,109.67 L207.59,110.95 L207.88,112.26 L208.18,113.61 L208.47,114.98 L208.77,116.37 L209.06,117.79 L209.35,119.23 L209.65,120.68 L209.94,122.15 L210.24,123.62 L210.53,125.11 L210.83,126.60 L211.12,128.09 L211.42,129.57 L211.71,131.07 L212.00,132.58 L212.30,134.12 L212.59,135.68 L212.89,137.27 L213.18,138.87 L213.48,140.50 L213.77,142.15 L214.07,143.83 L214.36,145.52 L214.66,147.23 L214.95,148.97 L215.24,150.72 L215.54,152.49 L215.83,154.28 L216.13,156.09 L216.42,157.92 L216.72,159.76 L217.01,161.63 L217.31,163.51 L217.60,165.40" fill="none" stroke="#9a22ff" stroke-width="1.2" stroke-linejoin="round"/><circle cx="100.10" cy="45.30" r="1.37" fill="#fff" stroke="#9a22ff" stroke-width="0.42"/><path d="M98.52,45.30 A1.58,1.58 0 0 1 101.68,45.30 Z" fill="#9a22ff"/><circle cx="126.40" cy="45.80" r="1.37" fill="#fff" stroke="#9a22ff" stroke-width="0.42"/><path d="M124.82,45.80 A1.58,1.58 0 0 1 127.98,45.80 Z" fill="#9a22ff"/><circle cx="152.50" cy="48.50" r="1.37" fill="#fff" stroke="#9a22ff" stroke-width="0.42"/><path d="M150.92,48.50 A1.58,1.58 0 0 1 154.08,48.50 Z" fill="#9a22ff"/><circle cx="178.70" cy="59.57" r="1.37" fill="#fff" stroke="#9a22ff" stroke-width="0.42"/><path d="M177.12,59.57 A1.58,1.58 0 0 1 180.28,59.57 Z" fill="#9a22ff"/><circle cx="205.20" cy="101.81" r="1.37" fill="#fff" stroke="#9a22ff" stroke-width="0.42"/><path d="M203.62,101.81 A1.58,1.58 0 0 1 206.78,101.81 Z" fill="#9a22ff"/></g><rect x="100.10" y="37.10" width="158.80" height="128.30" fill="none" stroke="#8a8a8a" stroke-width="1.4"/><path d="M100.10,165.40 v-2.60 M119.95,165.40 v-1.60 M139.80,165.40 v-2.60 M159.65,165.40 v-1.60 M179.50,165.40 v-2.60 M199.35,165.40 v-1.60 M219.20,165.40 v-2.60 M239.05,165.40 v-1.60 M258.90,165.40 v-2.60 M100.10,165.40 h2.60 M100.10,150.82 h1.60 M100.10,136.24 h2.60 M100.10,121.66 h1.60 M100.10,107.08 h2.60 M100.10,92.50 h1.60 M100.10,77.92 h2.60 M100.10,63.34 h1.60 M100.10,48.76 h2.60" stroke="#8a8a8a" stroke-width="0.9" fill="none"/><text x="100.10" y="174.4" class="it" text-anchor="middle">300</text><text x="139.80" y="174.4" class="it" text-anchor="middle">350</text><text x="179.50" y="174.4" class="it" text-anchor="middle">400</text><text x="219.20" y="174.4" class="it" text-anchor="middle">450</text><text x="258.90" y="174.4" class="it" text-anchor="middle">500</text><text x="97.0" y="168.30" class="it" text-anchor="end">80</text><text x="97.0" y="139.14" class="it" text-anchor="end">85</text><text x="97.0" y="109.98" class="it" text-anchor="end">90</text><text x="97.0" y="80.82" class="it" text-anchor="end">95</text><text x="97.0" y="51.66" class="it" text-anchor="end">100</text><rect x="76.75" y="4.30" width="458.25" height="370.40" fill="none" stroke="#111" stroke-width="1.65"/><text x="107.06" y="396.1" class="tl" text-anchor="middle">100</text><text x="168.19" y="396.1" class="tl" text-anchor="middle">200</text><text x="229.32" y="396.1" class="tl" text-anchor="middle">300</text><text x="290.45" y="396.1" class="tl" text-anchor="middle">400</text><text x="351.58" y="396.1" class="tl" text-anchor="middle">500</text><text x="412.71" y="396.1" class="tl" text-anchor="middle">600</text><text x="473.84" y="396.1" class="tl" text-anchor="middle">700</text><text x="534.97" y="396.1" class="tl" text-anchor="middle">800</text><text x="68.4" y="380.00" class="tl" text-anchor="end">0</text><text x="68.4" y="309.44" class="tl" text-anchor="end">20</text><text x="68.4" y="238.88" class="tl" text-anchor="end">40</text><text x="68.4" y="168.32" class="tl" text-anchor="end">60</text><text x="68.4" y="97.76" class="tl" text-anchor="end">80</text><text x="68.4" y="27.20" class="tl" text-anchor="end">100</text><text x="306.5" y="429.0" class="at" text-anchor="middle">Temperature (<tspan font-size="24" dy="2.3">°</tspan><tspan dy="-2.3">C)</tspan></text><text transform="translate(20.9,178.6) rotate(-90)" x="0" y="0" class="at" text-anchor="middle">Residue weight (wt.%)</text><path d="M92.7,196.10 H128.3" stroke="#b03cb4" stroke-width="1.3"/><circle cx="110.60" cy="196.10" r="3.55" fill="#fff" stroke="#b03cb4" stroke-width="1.25"/><text x="133.0" y="201.80" class="lg">ADP</text><path d="M92.7,215.48 H128.3" stroke="#ff2a2a" stroke-width="1.3"/><polygon points="110.60,211.33 111.66,214.02 114.55,214.20 112.31,216.04 113.04,218.84 110.60,217.28 108.16,218.84 108.89,216.04 106.65,214.20 109.54,214.02" fill="#fff" stroke="#ff2a2a" stroke-width="1.15" stroke-linejoin="miter"/><text x="133.0" y="221.18" class="lg">API</text><path d="M92.7,234.86 H128.3" stroke="#2a2aff" stroke-width="1.3"/><circle cx="110.60" cy="234.86" r="4.05" fill="url(#navyg)"/><text x="133.0" y="240.56" class="lg">5% API/7% ADP/GF/PA6</text><path d="M92.7,254.24 H128.3" stroke="#ff18ff" stroke-width="1.3"/><rect x="107.10" y="250.74" width="7.00" height="7.00" fill="#ff18ff"/><text x="133.0" y="259.94" class="lg">3% API/9% ADP/GF/PA6</text><path d="M92.7,273.62 H128.3" stroke="#424242" stroke-width="1.3"/><polygon points="110.60,268.17 116.05,273.62 110.60,279.07 105.15,273.62" fill="#fff" stroke="#424242" stroke-width="1.10"/><text x="133.0" y="279.32" class="lg">1% API/11% ADP/GF/PA6</text><path d="M92.7,293.00 H128.3" stroke="#0c8a1c" stroke-width="1.3"/><polygon points="110.60,288.50 115.30,296.30 105.90,296.30 110.60,288.50" fill="#fff" stroke="#0c8a1c" stroke-width="1.10"/><polygon points="110.60,288.50 113.25,292.90 107.95,292.90" fill="#0c8a1c"/><text x="133.0" y="298.70" class="lg">12% ADP/GF/PA6</text><path d="M92.7,312.38 H128.3" stroke="#9a22ff" stroke-width="1.3"/><circle cx="110.60" cy="312.38" r="3.60" fill="#fff" stroke="#9a22ff" stroke-width="1.10"/><path d="M106.45,312.38 A4.15,4.15 0 0 1 114.75,312.38 Z" fill="#9a22ff"/><text x="133.0" y="318.08" class="lg">GF/PA6</text><ellipse cx="300.0" cy="30.85" rx="34.5" ry="23.1" transform="rotate(-2.5 300.0 30.85)" fill="none" stroke="#6b1414" stroke-width="2.4" stroke-dasharray="5.8,3.6"/><rect x="375.3" y="191.8" width="131.1" height="21.1" fill="#fff" stroke="#f9a264" stroke-width="1.35"/><text x="380.2" y="206.5" class="an" style="white-space:pre">More  residue 37.0%</text><path d="M506.8,213.2 L527.6,234.0" stroke="#f89448" stroke-width="2.0" fill="none"/><path d="M527.0,227.6 L528.3,234.6 L521.6,233.4" stroke="#f89448" stroke-width="1.9" fill="none" stroke-linejoin="miter"/></svg>
</body></html>
